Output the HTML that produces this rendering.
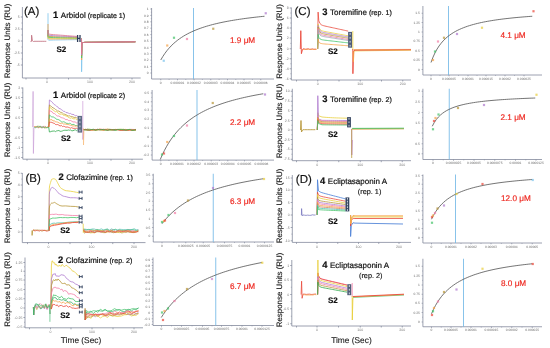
<!DOCTYPE html>
<html><head><meta charset="utf-8"><style>
html,body{margin:0;padding:0;background:#fff;width:550px;height:348px;overflow:hidden}
svg{display:block;will-change:transform}
text{font-family:'Liberation Sans', sans-serif;text-rendering:geometricPrecision}
</style></head><body>
<svg width="550" height="348" viewBox="0 0 550 348">
<rect width="550" height="348" fill="#fff"/>
<line x1="151.6" y1="8" x2="151.6" y2="79" stroke="#7b8296" stroke-width="0.75"/>
<line x1="151.6" y1="79" x2="274" y2="79" stroke="#7b8296" stroke-width="0.75"/>
<line x1="150.3" y1="9.0" x2="151.6" y2="9.0" stroke="#7b8296" stroke-width="0.6"/>
<text x="148.6" y="10.1" font-size="3.3" fill="#6e6e6e" font-weight="normal" text-anchor="end" >1</text>
<line x1="150.3" y1="15.4" x2="151.6" y2="15.4" stroke="#7b8296" stroke-width="0.6"/>
<text x="148.6" y="16.5" font-size="3.3" fill="#6e6e6e" font-weight="normal" text-anchor="end" >0.9</text>
<line x1="150.3" y1="21.8" x2="151.6" y2="21.8" stroke="#7b8296" stroke-width="0.6"/>
<text x="148.6" y="22.9" font-size="3.3" fill="#6e6e6e" font-weight="normal" text-anchor="end" >0.8</text>
<line x1="150.3" y1="28.2" x2="151.6" y2="28.2" stroke="#7b8296" stroke-width="0.6"/>
<text x="148.6" y="29.3" font-size="3.3" fill="#6e6e6e" font-weight="normal" text-anchor="end" >0.7</text>
<line x1="150.3" y1="34.6" x2="151.6" y2="34.6" stroke="#7b8296" stroke-width="0.6"/>
<text x="148.6" y="35.7" font-size="3.3" fill="#6e6e6e" font-weight="normal" text-anchor="end" >0.6</text>
<line x1="150.3" y1="41.0" x2="151.6" y2="41.0" stroke="#7b8296" stroke-width="0.6"/>
<text x="148.6" y="42.1" font-size="3.3" fill="#6e6e6e" font-weight="normal" text-anchor="end" >0.5</text>
<line x1="150.3" y1="47.4" x2="151.6" y2="47.4" stroke="#7b8296" stroke-width="0.6"/>
<text x="148.6" y="48.5" font-size="3.3" fill="#6e6e6e" font-weight="normal" text-anchor="end" >0.4</text>
<line x1="150.3" y1="53.8" x2="151.6" y2="53.8" stroke="#7b8296" stroke-width="0.6"/>
<text x="148.6" y="54.9" font-size="3.3" fill="#6e6e6e" font-weight="normal" text-anchor="end" >0.3</text>
<line x1="150.3" y1="60.2" x2="151.6" y2="60.2" stroke="#7b8296" stroke-width="0.6"/>
<text x="148.6" y="61.3" font-size="3.3" fill="#6e6e6e" font-weight="normal" text-anchor="end" >0.2</text>
<line x1="150.3" y1="66.6" x2="151.6" y2="66.6" stroke="#7b8296" stroke-width="0.6"/>
<text x="148.6" y="67.7" font-size="3.3" fill="#6e6e6e" font-weight="normal" text-anchor="end" >0.1</text>
<line x1="150.3" y1="73.0" x2="151.6" y2="73.0" stroke="#7b8296" stroke-width="0.6"/>
<text x="148.6" y="74.1" font-size="3.3" fill="#6e6e6e" font-weight="normal" text-anchor="end" >0</text>
<line x1="150.8" y1="12.2" x2="151.6" y2="12.2" stroke="#7b8296" stroke-width="0.5"/>
<line x1="150.8" y1="18.6" x2="151.6" y2="18.6" stroke="#7b8296" stroke-width="0.5"/>
<line x1="150.8" y1="25.0" x2="151.6" y2="25.0" stroke="#7b8296" stroke-width="0.5"/>
<line x1="150.8" y1="31.4" x2="151.6" y2="31.4" stroke="#7b8296" stroke-width="0.5"/>
<line x1="150.8" y1="37.8" x2="151.6" y2="37.8" stroke="#7b8296" stroke-width="0.5"/>
<line x1="150.8" y1="44.2" x2="151.6" y2="44.2" stroke="#7b8296" stroke-width="0.5"/>
<line x1="150.8" y1="50.6" x2="151.6" y2="50.6" stroke="#7b8296" stroke-width="0.5"/>
<line x1="150.8" y1="57.0" x2="151.6" y2="57.0" stroke="#7b8296" stroke-width="0.5"/>
<line x1="150.8" y1="63.4" x2="151.6" y2="63.4" stroke="#7b8296" stroke-width="0.5"/>
<line x1="150.8" y1="69.8" x2="151.6" y2="69.8" stroke="#7b8296" stroke-width="0.5"/>
<line x1="160.75" y1="79" x2="160.75" y2="80.3" stroke="#7b8296" stroke-width="0.6"/>
<text x="160.75" y="83.5" font-size="3.3" fill="#6e6e6e" font-weight="normal" text-anchor="middle" >0</text>
<line x1="177.5" y1="79" x2="177.5" y2="80.3" stroke="#7b8296" stroke-width="0.6"/>
<text x="177.5" y="83.5" font-size="3.3" fill="#6e6e6e" font-weight="normal" text-anchor="middle" >0.000001</text>
<line x1="194" y1="79" x2="194" y2="80.3" stroke="#7b8296" stroke-width="0.6"/>
<text x="194" y="83.5" font-size="3.3" fill="#6e6e6e" font-weight="normal" text-anchor="middle" >0.000002</text>
<line x1="210.75" y1="79" x2="210.75" y2="80.3" stroke="#7b8296" stroke-width="0.6"/>
<text x="210.75" y="83.5" font-size="3.3" fill="#6e6e6e" font-weight="normal" text-anchor="middle" >0.000003</text>
<line x1="227.5" y1="79" x2="227.5" y2="80.3" stroke="#7b8296" stroke-width="0.6"/>
<text x="227.5" y="83.5" font-size="3.3" fill="#6e6e6e" font-weight="normal" text-anchor="middle" >0.000004</text>
<line x1="244" y1="79" x2="244" y2="80.3" stroke="#7b8296" stroke-width="0.6"/>
<text x="244" y="83.5" font-size="3.3" fill="#6e6e6e" font-weight="normal" text-anchor="middle" >0.000005</text>
<line x1="260.75" y1="79" x2="260.75" y2="80.3" stroke="#7b8296" stroke-width="0.6"/>
<text x="260.75" y="83.5" font-size="3.3" fill="#6e6e6e" font-weight="normal" text-anchor="middle" >0.000006</text>
<line x1="169.12" y1="79" x2="169.12" y2="79.9" stroke="#7b8296" stroke-width="0.5"/>
<line x1="185.75" y1="79" x2="185.75" y2="79.9" stroke="#7b8296" stroke-width="0.5"/>
<line x1="202.38" y1="79" x2="202.38" y2="79.9" stroke="#7b8296" stroke-width="0.5"/>
<line x1="219.12" y1="79" x2="219.12" y2="79.9" stroke="#7b8296" stroke-width="0.5"/>
<line x1="235.75" y1="79" x2="235.75" y2="79.9" stroke="#7b8296" stroke-width="0.5"/>
<line x1="252.38" y1="79" x2="252.38" y2="79.9" stroke="#7b8296" stroke-width="0.5"/>
<line x1="193.5" y1="8" x2="193.5" y2="79" stroke="#72b8e6" stroke-width="0.85"/>
<polyline points="160.75,60.00 162.82,56.50 164.90,53.40 166.97,50.64 169.05,48.17 171.12,45.94 173.20,43.92 175.28,42.08 177.35,40.40 179.43,38.85 181.50,37.43 183.57,36.12 185.65,34.90 187.72,33.77 189.80,32.71 191.88,31.73 193.95,30.81 196.03,29.94 198.10,29.13 200.18,28.36 202.25,27.64 204.32,26.96 206.40,26.31 208.47,25.70 210.55,25.12 212.62,24.56 214.70,24.04 216.78,23.54 218.85,23.06 220.93,22.60 223.00,22.17 225.07,21.75 227.15,21.35 229.22,20.97 231.30,20.60 233.38,20.25 235.45,19.91 237.53,19.58 239.60,19.27 241.68,18.97 243.75,18.67 245.82,18.39 247.90,18.12 249.97,17.86 252.05,17.61 254.12,17.36 256.20,17.12 258.27,16.90 260.35,16.67 262.43,16.46 264.50,16.25" fill="none" stroke="#505050" stroke-width="0.8" stroke-opacity="1" stroke-linejoin="round"/>
<rect x="162.65" y="59.65" width="2.2" height="2.2" fill="#7cc4ec" opacity="0.72"/>
<rect x="166.15" y="44.4" width="2.2" height="2.2" fill="#f5a34a" opacity="0.72"/>
<rect x="172.9" y="36.65" width="2.2" height="2.2" fill="#45c46a" opacity="0.72"/>
<rect x="185.9" y="37.9" width="2.2" height="2.2" fill="#f27fa8" opacity="0.72"/>
<rect x="212.15" y="27.65" width="2.2" height="2.2" fill="#b8973a" opacity="0.72"/>
<rect x="264.65" y="12.15" width="2.2" height="2.2" fill="#b07ccf" opacity="0.72"/>
<text x="230" y="42.5" font-size="8.2" fill="#ee2a22" font-weight="normal" text-anchor="start" stroke="#ee2a22" stroke-width="0.18">1.9 μM</text>
<line x1="152.1" y1="90" x2="152.1" y2="160.1" stroke="#7b8296" stroke-width="0.75"/>
<line x1="152.1" y1="160.1" x2="274" y2="160.1" stroke="#7b8296" stroke-width="0.75"/>
<line x1="150.8" y1="93" x2="152.1" y2="93" stroke="#7b8296" stroke-width="0.6"/>
<text x="149.1" y="94.1" font-size="3.3" fill="#6e6e6e" font-weight="normal" text-anchor="end" >0.5</text>
<line x1="150.8" y1="101.75" x2="152.1" y2="101.75" stroke="#7b8296" stroke-width="0.6"/>
<text x="149.1" y="102.85" font-size="3.3" fill="#6e6e6e" font-weight="normal" text-anchor="end" >0.4</text>
<line x1="150.8" y1="110.25" x2="152.1" y2="110.25" stroke="#7b8296" stroke-width="0.6"/>
<text x="149.1" y="111.35" font-size="3.3" fill="#6e6e6e" font-weight="normal" text-anchor="end" >0.3</text>
<line x1="150.8" y1="119.25" x2="152.1" y2="119.25" stroke="#7b8296" stroke-width="0.6"/>
<text x="149.1" y="120.35" font-size="3.3" fill="#6e6e6e" font-weight="normal" text-anchor="end" >0.2</text>
<line x1="150.8" y1="128" x2="152.1" y2="128" stroke="#7b8296" stroke-width="0.6"/>
<text x="149.1" y="129.1" font-size="3.3" fill="#6e6e6e" font-weight="normal" text-anchor="end" >0.1</text>
<line x1="150.8" y1="137.25" x2="152.1" y2="137.25" stroke="#7b8296" stroke-width="0.6"/>
<text x="149.1" y="138.35" font-size="3.3" fill="#6e6e6e" font-weight="normal" text-anchor="end" >0</text>
<line x1="150.8" y1="146" x2="152.1" y2="146" stroke="#7b8296" stroke-width="0.6"/>
<text x="149.1" y="147.1" font-size="3.3" fill="#6e6e6e" font-weight="normal" text-anchor="end" >-0.1</text>
<line x1="150.8" y1="155" x2="152.1" y2="155" stroke="#7b8296" stroke-width="0.6"/>
<text x="149.1" y="156.1" font-size="3.3" fill="#6e6e6e" font-weight="normal" text-anchor="end" >-0.2</text>
<line x1="151.3" y1="97.38" x2="152.1" y2="97.38" stroke="#7b8296" stroke-width="0.5"/>
<line x1="151.3" y1="106.0" x2="152.1" y2="106.0" stroke="#7b8296" stroke-width="0.5"/>
<line x1="151.3" y1="114.75" x2="152.1" y2="114.75" stroke="#7b8296" stroke-width="0.5"/>
<line x1="151.3" y1="123.62" x2="152.1" y2="123.62" stroke="#7b8296" stroke-width="0.5"/>
<line x1="151.3" y1="132.62" x2="152.1" y2="132.62" stroke="#7b8296" stroke-width="0.5"/>
<line x1="151.3" y1="141.62" x2="152.1" y2="141.62" stroke="#7b8296" stroke-width="0.5"/>
<line x1="151.3" y1="150.5" x2="152.1" y2="150.5" stroke="#7b8296" stroke-width="0.5"/>
<line x1="160.75" y1="160.1" x2="160.75" y2="161.4" stroke="#7b8296" stroke-width="0.6"/>
<text x="160.75" y="164.6" font-size="3.3" fill="#6e6e6e" font-weight="normal" text-anchor="middle" >0</text>
<line x1="177" y1="160.1" x2="177" y2="161.4" stroke="#7b8296" stroke-width="0.6"/>
<text x="177" y="164.6" font-size="3.3" fill="#6e6e6e" font-weight="normal" text-anchor="middle" >0.000001</text>
<line x1="194" y1="160.1" x2="194" y2="161.4" stroke="#7b8296" stroke-width="0.6"/>
<text x="194" y="164.6" font-size="3.3" fill="#6e6e6e" font-weight="normal" text-anchor="middle" >0.000002</text>
<line x1="211.25" y1="160.1" x2="211.25" y2="161.4" stroke="#7b8296" stroke-width="0.6"/>
<text x="211.25" y="164.6" font-size="3.3" fill="#6e6e6e" font-weight="normal" text-anchor="middle" >0.000003</text>
<line x1="227.75" y1="160.1" x2="227.75" y2="161.4" stroke="#7b8296" stroke-width="0.6"/>
<text x="227.75" y="164.6" font-size="3.3" fill="#6e6e6e" font-weight="normal" text-anchor="middle" >0.000004</text>
<line x1="244.5" y1="160.1" x2="244.5" y2="161.4" stroke="#7b8296" stroke-width="0.6"/>
<text x="244.5" y="164.6" font-size="3.3" fill="#6e6e6e" font-weight="normal" text-anchor="middle" >0.000005</text>
<line x1="261.5" y1="160.1" x2="261.5" y2="161.4" stroke="#7b8296" stroke-width="0.6"/>
<text x="261.5" y="164.6" font-size="3.3" fill="#6e6e6e" font-weight="normal" text-anchor="middle" >0.000006</text>
<line x1="168.88" y1="160.1" x2="168.88" y2="161.0" stroke="#7b8296" stroke-width="0.5"/>
<line x1="185.5" y1="160.1" x2="185.5" y2="161.0" stroke="#7b8296" stroke-width="0.5"/>
<line x1="202.62" y1="160.1" x2="202.62" y2="161.0" stroke="#7b8296" stroke-width="0.5"/>
<line x1="219.5" y1="160.1" x2="219.5" y2="161.0" stroke="#7b8296" stroke-width="0.5"/>
<line x1="236.12" y1="160.1" x2="236.12" y2="161.0" stroke="#7b8296" stroke-width="0.5"/>
<line x1="253.0" y1="160.1" x2="253.0" y2="161.0" stroke="#7b8296" stroke-width="0.5"/>
<line x1="197" y1="90" x2="197" y2="160.1" stroke="#72b8e6" stroke-width="0.85"/>
<polyline points="160.25,159.50 162.31,154.80 164.37,150.56 166.43,146.73 168.49,143.25 170.55,140.07 172.61,137.16 174.67,134.47 176.73,132.00 178.79,129.70 180.85,127.58 182.91,125.59 184.97,123.74 187.03,122.01 189.09,120.39 191.15,118.87 193.21,117.43 195.27,116.08 197.33,114.80 199.39,113.59 201.45,112.45 203.51,111.36 205.57,110.33 207.63,109.35 209.69,108.41 211.75,107.52 213.81,106.67 215.87,105.85 217.93,105.08 219.99,104.33 222.05,103.62 224.11,102.93 226.17,102.28 228.23,101.64 230.29,101.04 232.35,100.45 234.41,99.89 236.47,99.35 238.53,98.83 240.59,98.32 242.65,97.83 244.71,97.36 246.77,96.91 248.83,96.47 250.89,96.04 252.95,95.63 255.01,95.23 257.07,94.84 259.13,94.47 261.19,94.10 263.25,93.75" fill="none" stroke="#505050" stroke-width="0.8" stroke-opacity="1" stroke-linejoin="round"/>
<rect x="160.9" y="153.4" width="2.2" height="2.2" fill="#45c46a" opacity="0.72"/>
<rect x="162.9" y="152.4" width="2.2" height="2.2" fill="#ea4a3c" opacity="0.72"/>
<rect x="166.15" y="140.9" width="2.2" height="2.2" fill="#f5a34a" opacity="0.72"/>
<rect x="172.9" y="134.9" width="2.2" height="2.2" fill="#45c46a" opacity="0.72"/>
<rect x="185.9" y="124.4" width="2.2" height="2.2" fill="#f27fa8" opacity="0.72"/>
<rect x="211.65" y="101.9" width="2.2" height="2.2" fill="#b8973a" opacity="0.72"/>
<rect x="263.9" y="93.4" width="2.2" height="2.2" fill="#b07ccf" opacity="0.72"/>
<text x="230" y="124.5" font-size="8.2" fill="#ee2a22" font-weight="normal" text-anchor="start" stroke="#ee2a22" stroke-width="0.18">2.2 μM</text>
<line x1="153.25" y1="173.75" x2="153.25" y2="242" stroke="#7b8296" stroke-width="0.75"/>
<line x1="153.25" y1="242" x2="274" y2="242" stroke="#7b8296" stroke-width="0.75"/>
<line x1="151.95" y1="175" x2="153.25" y2="175" stroke="#7b8296" stroke-width="0.6"/>
<text x="150.25" y="176.1" font-size="3.3" fill="#6e6e6e" font-weight="normal" text-anchor="end" >3.5</text>
<line x1="151.95" y1="183.75" x2="153.25" y2="183.75" stroke="#7b8296" stroke-width="0.6"/>
<text x="150.25" y="184.85" font-size="3.3" fill="#6e6e6e" font-weight="normal" text-anchor="end" >3</text>
<line x1="151.95" y1="192.5" x2="153.25" y2="192.5" stroke="#7b8296" stroke-width="0.6"/>
<text x="150.25" y="193.6" font-size="3.3" fill="#6e6e6e" font-weight="normal" text-anchor="end" >2.5</text>
<line x1="151.95" y1="201.25" x2="153.25" y2="201.25" stroke="#7b8296" stroke-width="0.6"/>
<text x="150.25" y="202.35" font-size="3.3" fill="#6e6e6e" font-weight="normal" text-anchor="end" >2</text>
<line x1="151.95" y1="210" x2="153.25" y2="210" stroke="#7b8296" stroke-width="0.6"/>
<text x="150.25" y="211.1" font-size="3.3" fill="#6e6e6e" font-weight="normal" text-anchor="end" >1.5</text>
<line x1="151.95" y1="219" x2="153.25" y2="219" stroke="#7b8296" stroke-width="0.6"/>
<text x="150.25" y="220.1" font-size="3.3" fill="#6e6e6e" font-weight="normal" text-anchor="end" >1</text>
<line x1="151.95" y1="227.5" x2="153.25" y2="227.5" stroke="#7b8296" stroke-width="0.6"/>
<text x="150.25" y="228.6" font-size="3.3" fill="#6e6e6e" font-weight="normal" text-anchor="end" >0.5</text>
<line x1="151.95" y1="236.25" x2="153.25" y2="236.25" stroke="#7b8296" stroke-width="0.6"/>
<text x="150.25" y="237.35" font-size="3.3" fill="#6e6e6e" font-weight="normal" text-anchor="end" >0</text>
<line x1="152.45" y1="179.38" x2="153.25" y2="179.38" stroke="#7b8296" stroke-width="0.5"/>
<line x1="152.45" y1="188.12" x2="153.25" y2="188.12" stroke="#7b8296" stroke-width="0.5"/>
<line x1="152.45" y1="196.88" x2="153.25" y2="196.88" stroke="#7b8296" stroke-width="0.5"/>
<line x1="152.45" y1="205.62" x2="153.25" y2="205.62" stroke="#7b8296" stroke-width="0.5"/>
<line x1="152.45" y1="214.5" x2="153.25" y2="214.5" stroke="#7b8296" stroke-width="0.5"/>
<line x1="152.45" y1="223.25" x2="153.25" y2="223.25" stroke="#7b8296" stroke-width="0.5"/>
<line x1="152.45" y1="231.88" x2="153.25" y2="231.88" stroke="#7b8296" stroke-width="0.5"/>
<line x1="162" y1="242" x2="162" y2="243.3" stroke="#7b8296" stroke-width="0.6"/>
<text x="162" y="246.5" font-size="3.3" fill="#6e6e6e" font-weight="normal" text-anchor="middle" >0</text>
<line x1="185.75" y1="242" x2="185.75" y2="243.3" stroke="#7b8296" stroke-width="0.6"/>
<text x="185.75" y="246.5" font-size="3.3" fill="#6e6e6e" font-weight="normal" text-anchor="middle" >0.0000025</text>
<line x1="203.25" y1="242" x2="203.25" y2="243.3" stroke="#7b8296" stroke-width="0.6"/>
<text x="203.25" y="246.5" font-size="3.3" fill="#6e6e6e" font-weight="normal" text-anchor="middle" >0.000005</text>
<line x1="224.5" y1="242" x2="224.5" y2="243.3" stroke="#7b8296" stroke-width="0.6"/>
<text x="224.5" y="246.5" font-size="3.3" fill="#6e6e6e" font-weight="normal" text-anchor="middle" >0.0000075</text>
<line x1="244.5" y1="242" x2="244.5" y2="243.3" stroke="#7b8296" stroke-width="0.6"/>
<text x="244.5" y="246.5" font-size="3.3" fill="#6e6e6e" font-weight="normal" text-anchor="middle" >0.00001</text>
<line x1="264.5" y1="242" x2="264.5" y2="243.3" stroke="#7b8296" stroke-width="0.6"/>
<text x="264.5" y="246.5" font-size="3.3" fill="#6e6e6e" font-weight="normal" text-anchor="middle" >0.0000125</text>
<line x1="173.88" y1="242" x2="173.88" y2="242.9" stroke="#7b8296" stroke-width="0.5"/>
<line x1="194.5" y1="242" x2="194.5" y2="242.9" stroke="#7b8296" stroke-width="0.5"/>
<line x1="213.88" y1="242" x2="213.88" y2="242.9" stroke="#7b8296" stroke-width="0.5"/>
<line x1="234.5" y1="242" x2="234.5" y2="242.9" stroke="#7b8296" stroke-width="0.5"/>
<line x1="254.5" y1="242" x2="254.5" y2="242.9" stroke="#7b8296" stroke-width="0.5"/>
<line x1="213.25" y1="173.75" x2="213.25" y2="242" stroke="#72b8e6" stroke-width="0.85"/>
<polyline points="162.00,223.75 164.03,221.19 166.05,218.82 168.07,216.61 170.10,214.55 172.12,212.62 174.15,210.82 176.18,209.13 178.20,207.54 180.22,206.04 182.25,204.63 184.28,203.29 186.30,202.02 188.32,200.82 190.35,199.69 192.38,198.60 194.40,197.57 196.43,196.59 198.45,195.65 200.47,194.75 202.50,193.90 204.53,193.08 206.55,192.29 208.57,191.54 210.60,190.82 212.62,190.13 214.65,189.46 216.68,188.82 218.70,188.20 220.72,187.60 222.75,187.03 224.78,186.48 226.80,185.94 228.82,185.43 230.85,184.93 232.88,184.45 234.90,183.98 236.93,183.53 238.95,183.09 240.97,182.67 243.00,182.26 245.03,181.86 247.05,181.47 249.07,181.10 251.10,180.73 253.12,180.38 255.15,180.04 257.18,179.70 259.20,179.38 261.23,179.06 263.25,178.75" fill="none" stroke="#505050" stroke-width="0.8" stroke-opacity="1" stroke-linejoin="round"/>
<rect x="160.9" y="220.9" width="2.2" height="2.2" fill="#45c46a" opacity="0.72"/>
<rect x="162.9" y="219.9" width="2.2" height="2.2" fill="#f5a34a" opacity="0.72"/>
<rect x="163.9" y="219.4" width="2.2" height="2.2" fill="#ea4a3c" opacity="0.72"/>
<rect x="167.4" y="213.9" width="2.2" height="2.2" fill="#45c46a" opacity="0.72"/>
<rect x="173.9" y="211.9" width="2.2" height="2.2" fill="#f27fa8" opacity="0.72"/>
<rect x="186.9" y="199.4" width="2.2" height="2.2" fill="#b8973a" opacity="0.72"/>
<rect x="211.9" y="186.9" width="2.2" height="2.2" fill="#b07ccf" opacity="0.72"/>
<rect x="262.9" y="177.9" width="2.2" height="2.2" fill="#e9cf3e" opacity="0.72"/>
<text x="230" y="203.75" font-size="8.2" fill="#ee2a22" font-weight="normal" text-anchor="start" stroke="#ee2a22" stroke-width="0.18">6.3 μM</text>
<line x1="153" y1="257.5" x2="153" y2="325.5" stroke="#7b8296" stroke-width="0.75"/>
<line x1="153" y1="325.5" x2="274" y2="325.5" stroke="#7b8296" stroke-width="0.75"/>
<line x1="151.7" y1="259.5" x2="153" y2="259.5" stroke="#7b8296" stroke-width="0.6"/>
<text x="150" y="260.6" font-size="3.3" fill="#6e6e6e" font-weight="normal" text-anchor="end" >0.9</text>
<line x1="151.7" y1="265.5" x2="153" y2="265.5" stroke="#7b8296" stroke-width="0.6"/>
<text x="150" y="266.6" font-size="3.3" fill="#6e6e6e" font-weight="normal" text-anchor="end" >0.8</text>
<line x1="151.7" y1="270.75" x2="153" y2="270.75" stroke="#7b8296" stroke-width="0.6"/>
<text x="150" y="271.85" font-size="3.3" fill="#6e6e6e" font-weight="normal" text-anchor="end" >0.7</text>
<line x1="151.7" y1="277" x2="153" y2="277" stroke="#7b8296" stroke-width="0.6"/>
<text x="150" y="278.1" font-size="3.3" fill="#6e6e6e" font-weight="normal" text-anchor="end" >0.6</text>
<line x1="151.7" y1="282.5" x2="153" y2="282.5" stroke="#7b8296" stroke-width="0.6"/>
<text x="150" y="283.6" font-size="3.3" fill="#6e6e6e" font-weight="normal" text-anchor="end" >0.5</text>
<line x1="151.7" y1="288.75" x2="153" y2="288.75" stroke="#7b8296" stroke-width="0.6"/>
<text x="150" y="289.85" font-size="3.3" fill="#6e6e6e" font-weight="normal" text-anchor="end" >0.4</text>
<line x1="151.7" y1="295" x2="153" y2="295" stroke="#7b8296" stroke-width="0.6"/>
<text x="150" y="296.1" font-size="3.3" fill="#6e6e6e" font-weight="normal" text-anchor="end" >0.3</text>
<line x1="151.7" y1="300.75" x2="153" y2="300.75" stroke="#7b8296" stroke-width="0.6"/>
<text x="150" y="301.85" font-size="3.3" fill="#6e6e6e" font-weight="normal" text-anchor="end" >0.2</text>
<line x1="151.7" y1="306.75" x2="153" y2="306.75" stroke="#7b8296" stroke-width="0.6"/>
<text x="150" y="307.85" font-size="3.3" fill="#6e6e6e" font-weight="normal" text-anchor="end" >0.1</text>
<line x1="151.7" y1="312.5" x2="153" y2="312.5" stroke="#7b8296" stroke-width="0.6"/>
<text x="150" y="313.6" font-size="3.3" fill="#6e6e6e" font-weight="normal" text-anchor="end" >0</text>
<line x1="151.7" y1="318.75" x2="153" y2="318.75" stroke="#7b8296" stroke-width="0.6"/>
<text x="150" y="319.85" font-size="3.3" fill="#6e6e6e" font-weight="normal" text-anchor="end" >-0.1</text>
<line x1="151.7" y1="324.5" x2="153" y2="324.5" stroke="#7b8296" stroke-width="0.6"/>
<text x="150" y="325.6" font-size="3.3" fill="#6e6e6e" font-weight="normal" text-anchor="end" >-0.2</text>
<line x1="152.2" y1="262.5" x2="153" y2="262.5" stroke="#7b8296" stroke-width="0.5"/>
<line x1="152.2" y1="268.12" x2="153" y2="268.12" stroke="#7b8296" stroke-width="0.5"/>
<line x1="152.2" y1="273.88" x2="153" y2="273.88" stroke="#7b8296" stroke-width="0.5"/>
<line x1="152.2" y1="279.75" x2="153" y2="279.75" stroke="#7b8296" stroke-width="0.5"/>
<line x1="152.2" y1="285.62" x2="153" y2="285.62" stroke="#7b8296" stroke-width="0.5"/>
<line x1="152.2" y1="291.88" x2="153" y2="291.88" stroke="#7b8296" stroke-width="0.5"/>
<line x1="152.2" y1="297.88" x2="153" y2="297.88" stroke="#7b8296" stroke-width="0.5"/>
<line x1="152.2" y1="303.75" x2="153" y2="303.75" stroke="#7b8296" stroke-width="0.5"/>
<line x1="152.2" y1="309.62" x2="153" y2="309.62" stroke="#7b8296" stroke-width="0.5"/>
<line x1="152.2" y1="315.62" x2="153" y2="315.62" stroke="#7b8296" stroke-width="0.5"/>
<line x1="152.2" y1="321.62" x2="153" y2="321.62" stroke="#7b8296" stroke-width="0.5"/>
<line x1="161.5" y1="325.5" x2="161.5" y2="326.8" stroke="#7b8296" stroke-width="0.6"/>
<text x="161.5" y="330.0" font-size="3.3" fill="#6e6e6e" font-weight="normal" text-anchor="middle" >0</text>
<line x1="181.5" y1="325.5" x2="181.5" y2="326.8" stroke="#7b8296" stroke-width="0.6"/>
<text x="181.5" y="330.0" font-size="3.3" fill="#6e6e6e" font-weight="normal" text-anchor="middle" >0.0000025</text>
<line x1="202.5" y1="325.5" x2="202.5" y2="326.8" stroke="#7b8296" stroke-width="0.6"/>
<text x="202.5" y="330.0" font-size="3.3" fill="#6e6e6e" font-weight="normal" text-anchor="middle" >0.000005</text>
<line x1="221.5" y1="325.5" x2="221.5" y2="326.8" stroke="#7b8296" stroke-width="0.6"/>
<text x="221.5" y="330.0" font-size="3.3" fill="#6e6e6e" font-weight="normal" text-anchor="middle" >0.0000075</text>
<line x1="242" y1="325.5" x2="242" y2="326.8" stroke="#7b8296" stroke-width="0.6"/>
<text x="242" y="330.0" font-size="3.3" fill="#6e6e6e" font-weight="normal" text-anchor="middle" >0.00001</text>
<line x1="262" y1="325.5" x2="262" y2="326.8" stroke="#7b8296" stroke-width="0.6"/>
<text x="262" y="330.0" font-size="3.3" fill="#6e6e6e" font-weight="normal" text-anchor="middle" >0.0000125</text>
<line x1="171.5" y1="325.5" x2="171.5" y2="326.4" stroke="#7b8296" stroke-width="0.5"/>
<line x1="192.0" y1="325.5" x2="192.0" y2="326.4" stroke="#7b8296" stroke-width="0.5"/>
<line x1="212.0" y1="325.5" x2="212.0" y2="326.4" stroke="#7b8296" stroke-width="0.5"/>
<line x1="231.75" y1="325.5" x2="231.75" y2="326.4" stroke="#7b8296" stroke-width="0.5"/>
<line x1="252.0" y1="325.5" x2="252.0" y2="326.4" stroke="#7b8296" stroke-width="0.5"/>
<line x1="215.75" y1="257.5" x2="215.75" y2="325.5" stroke="#72b8e6" stroke-width="0.85"/>
<polyline points="161.25,317.50 163.26,314.44 165.28,311.60 167.29,308.95 169.31,306.47 171.32,304.15 173.34,301.97 175.35,299.92 177.37,297.99 179.38,296.17 181.40,294.45 183.41,292.82 185.43,291.28 187.44,289.81 189.46,288.42 191.47,287.09 193.49,285.83 195.50,284.62 197.52,283.47 199.53,282.37 201.55,281.31 203.56,280.30 205.58,279.33 207.59,278.41 209.61,277.51 211.62,276.66 213.64,275.83 215.66,275.04 217.67,274.27 219.69,273.53 221.70,272.82 223.72,272.14 225.73,271.47 227.75,270.83 229.76,270.21 231.78,269.61 233.79,269.03 235.81,268.47 237.82,267.93 239.83,267.40 241.85,266.89 243.87,266.39 245.88,265.91 247.89,265.44 249.91,264.98 251.93,264.54 253.94,264.11 255.95,263.69 257.97,263.28 259.99,262.89 262.00,262.50" fill="none" stroke="#505050" stroke-width="0.8" stroke-opacity="1" stroke-linejoin="round"/>
<rect x="160.9" y="311.4" width="2.2" height="2.2" fill="#45c46a" opacity="0.72"/>
<rect x="161.9" y="318.9" width="2.2" height="2.2" fill="#ea4a3c" opacity="0.72"/>
<rect x="163.4" y="309.9" width="2.2" height="2.2" fill="#f5a34a" opacity="0.72"/>
<rect x="166.9" y="307.4" width="2.2" height="2.2" fill="#45c46a" opacity="0.72"/>
<rect x="173.4" y="299.9" width="2.2" height="2.2" fill="#f27fa8" opacity="0.72"/>
<rect x="185.9" y="287.9" width="2.2" height="2.2" fill="#b8973a" opacity="0.72"/>
<rect x="210.9" y="277.9" width="2.2" height="2.2" fill="#d08ad0" opacity="0.72"/>
<rect x="261.15" y="261.65" width="2.2" height="2.2" fill="#e9cf3e" opacity="0.72"/>
<text x="230" y="288.75" font-size="8.2" fill="#ee2a22" font-weight="normal" text-anchor="start" stroke="#ee2a22" stroke-width="0.18">6.7 μM</text>
<line x1="422.9" y1="6" x2="422.9" y2="75" stroke="#7b8296" stroke-width="0.75"/>
<line x1="422.9" y1="75" x2="542" y2="75" stroke="#7b8296" stroke-width="0.75"/>
<line x1="421.6" y1="13.25" x2="422.9" y2="13.25" stroke="#7b8296" stroke-width="0.6"/>
<text x="419.9" y="14.35" font-size="3.3" fill="#6e6e6e" font-weight="normal" text-anchor="end" >1.5</text>
<line x1="421.6" y1="22.5" x2="422.9" y2="22.5" stroke="#7b8296" stroke-width="0.6"/>
<text x="419.9" y="23.6" font-size="3.3" fill="#6e6e6e" font-weight="normal" text-anchor="end" >1.25</text>
<line x1="421.6" y1="32" x2="422.9" y2="32" stroke="#7b8296" stroke-width="0.6"/>
<text x="419.9" y="33.1" font-size="3.3" fill="#6e6e6e" font-weight="normal" text-anchor="end" >1</text>
<line x1="421.6" y1="41.25" x2="422.9" y2="41.25" stroke="#7b8296" stroke-width="0.6"/>
<text x="419.9" y="42.35" font-size="3.3" fill="#6e6e6e" font-weight="normal" text-anchor="end" >0.75</text>
<line x1="421.6" y1="50.75" x2="422.9" y2="50.75" stroke="#7b8296" stroke-width="0.6"/>
<text x="419.9" y="51.85" font-size="3.3" fill="#6e6e6e" font-weight="normal" text-anchor="end" >0.5</text>
<line x1="421.6" y1="60" x2="422.9" y2="60" stroke="#7b8296" stroke-width="0.6"/>
<text x="419.9" y="61.1" font-size="3.3" fill="#6e6e6e" font-weight="normal" text-anchor="end" >0.25</text>
<line x1="421.6" y1="69.5" x2="422.9" y2="69.5" stroke="#7b8296" stroke-width="0.6"/>
<text x="419.9" y="70.6" font-size="3.3" fill="#6e6e6e" font-weight="normal" text-anchor="end" >0</text>
<line x1="422.1" y1="17.88" x2="422.9" y2="17.88" stroke="#7b8296" stroke-width="0.5"/>
<line x1="422.1" y1="27.25" x2="422.9" y2="27.25" stroke="#7b8296" stroke-width="0.5"/>
<line x1="422.1" y1="36.62" x2="422.9" y2="36.62" stroke="#7b8296" stroke-width="0.5"/>
<line x1="422.1" y1="46.0" x2="422.9" y2="46.0" stroke="#7b8296" stroke-width="0.5"/>
<line x1="422.1" y1="55.38" x2="422.9" y2="55.38" stroke="#7b8296" stroke-width="0.5"/>
<line x1="422.1" y1="64.75" x2="422.9" y2="64.75" stroke="#7b8296" stroke-width="0.5"/>
<line x1="431" y1="75" x2="431" y2="76.3" stroke="#7b8296" stroke-width="0.6"/>
<text x="431" y="79.5" font-size="3.3" fill="#6e6e6e" font-weight="normal" text-anchor="middle" >0</text>
<line x1="449" y1="75" x2="449" y2="76.3" stroke="#7b8296" stroke-width="0.6"/>
<text x="449" y="79.5" font-size="3.3" fill="#6e6e6e" font-weight="normal" text-anchor="middle" >0.000005</text>
<line x1="468" y1="75" x2="468" y2="76.3" stroke="#7b8296" stroke-width="0.6"/>
<text x="468" y="79.5" font-size="3.3" fill="#6e6e6e" font-weight="normal" text-anchor="middle" >0.00001</text>
<line x1="486" y1="75" x2="486" y2="76.3" stroke="#7b8296" stroke-width="0.6"/>
<text x="486" y="79.5" font-size="3.3" fill="#6e6e6e" font-weight="normal" text-anchor="middle" >0.000015</text>
<line x1="505" y1="75" x2="505" y2="76.3" stroke="#7b8296" stroke-width="0.6"/>
<text x="505" y="79.5" font-size="3.3" fill="#6e6e6e" font-weight="normal" text-anchor="middle" >0.00002</text>
<line x1="524" y1="75" x2="524" y2="76.3" stroke="#7b8296" stroke-width="0.6"/>
<text x="524" y="79.5" font-size="3.3" fill="#6e6e6e" font-weight="normal" text-anchor="middle" >0.000025</text>
<line x1="440.0" y1="75" x2="440.0" y2="75.9" stroke="#7b8296" stroke-width="0.5"/>
<line x1="458.5" y1="75" x2="458.5" y2="75.9" stroke="#7b8296" stroke-width="0.5"/>
<line x1="477.0" y1="75" x2="477.0" y2="75.9" stroke="#7b8296" stroke-width="0.5"/>
<line x1="495.5" y1="75" x2="495.5" y2="75.9" stroke="#7b8296" stroke-width="0.5"/>
<line x1="514.5" y1="75" x2="514.5" y2="75.9" stroke="#7b8296" stroke-width="0.5"/>
<line x1="448.5" y1="6" x2="448.5" y2="75" stroke="#72b8e6" stroke-width="0.85"/>
<polyline points="431.00,62.50 433.02,57.14 435.05,52.74 437.07,49.05 439.10,45.93 441.12,43.24 443.15,40.91 445.18,38.86 447.20,37.05 449.23,35.44 451.25,34.00 453.27,32.70 455.30,31.53 457.32,30.45 459.35,29.47 461.38,28.58 463.40,27.75 465.43,26.99 467.45,26.28 469.48,25.62 471.50,25.01 473.52,24.44 475.55,23.90 477.57,23.40 479.60,22.93 481.62,22.48 483.65,22.06 485.68,21.67 487.70,21.29 489.73,20.94 491.75,20.60 493.77,20.28 495.80,19.98 497.82,19.68 499.85,19.41 501.88,19.14 503.90,18.89 505.93,18.65 507.95,18.42 509.98,18.20 512.00,17.98 514.02,17.78 516.05,17.58 518.08,17.39 520.10,17.21 522.12,17.04 524.15,16.87 526.17,16.71 528.20,16.55 530.23,16.40 532.25,16.25" fill="none" stroke="#505050" stroke-width="0.8" stroke-opacity="1" stroke-linejoin="round"/>
<rect x="431.9" y="58.9" width="2.2" height="2.2" fill="#f5a34a" opacity="0.72"/>
<rect x="433.9" y="50.4" width="2.2" height="2.2" fill="#45c46a" opacity="0.72"/>
<rect x="436.9" y="40.4" width="2.2" height="2.2" fill="#f27fa8" opacity="0.72"/>
<rect x="442.9" y="36.65" width="2.2" height="2.2" fill="#b8973a" opacity="0.72"/>
<rect x="455.9" y="32.9" width="2.2" height="2.2" fill="#b07ccf" opacity="0.72"/>
<rect x="480.9" y="26.65" width="2.2" height="2.2" fill="#e9cf3e" opacity="0.72"/>
<rect x="532.4" y="10.15" width="2.2" height="2.2" fill="#ea4a3c" opacity="0.72"/>
<text x="500.5" y="37.5" font-size="8.2" fill="#ee2a22" font-weight="normal" text-anchor="start" stroke="#ee2a22" stroke-width="0.18">4.1 μM</text>
<line x1="422.9" y1="88.75" x2="422.9" y2="159.5" stroke="#7b8296" stroke-width="0.75"/>
<line x1="422.9" y1="159.5" x2="542" y2="159.5" stroke="#7b8296" stroke-width="0.75"/>
<line x1="421.6" y1="91.25" x2="422.9" y2="91.25" stroke="#7b8296" stroke-width="0.6"/>
<text x="419.9" y="92.35" font-size="3.3" fill="#6e6e6e" font-weight="normal" text-anchor="end" >3</text>
<line x1="421.6" y1="102" x2="422.9" y2="102" stroke="#7b8296" stroke-width="0.6"/>
<text x="419.9" y="103.1" font-size="3.3" fill="#6e6e6e" font-weight="normal" text-anchor="end" >2.5</text>
<line x1="421.6" y1="112.5" x2="422.9" y2="112.5" stroke="#7b8296" stroke-width="0.6"/>
<text x="419.9" y="113.6" font-size="3.3" fill="#6e6e6e" font-weight="normal" text-anchor="end" >2</text>
<line x1="421.6" y1="123" x2="422.9" y2="123" stroke="#7b8296" stroke-width="0.6"/>
<text x="419.9" y="124.1" font-size="3.3" fill="#6e6e6e" font-weight="normal" text-anchor="end" >1.5</text>
<line x1="421.6" y1="133" x2="422.9" y2="133" stroke="#7b8296" stroke-width="0.6"/>
<text x="419.9" y="134.1" font-size="3.3" fill="#6e6e6e" font-weight="normal" text-anchor="end" >1</text>
<line x1="421.6" y1="143.75" x2="422.9" y2="143.75" stroke="#7b8296" stroke-width="0.6"/>
<text x="419.9" y="144.85" font-size="3.3" fill="#6e6e6e" font-weight="normal" text-anchor="end" >0.5</text>
<line x1="421.6" y1="153.75" x2="422.9" y2="153.75" stroke="#7b8296" stroke-width="0.6"/>
<text x="419.9" y="154.85" font-size="3.3" fill="#6e6e6e" font-weight="normal" text-anchor="end" >0</text>
<line x1="422.1" y1="96.62" x2="422.9" y2="96.62" stroke="#7b8296" stroke-width="0.5"/>
<line x1="422.1" y1="107.25" x2="422.9" y2="107.25" stroke="#7b8296" stroke-width="0.5"/>
<line x1="422.1" y1="117.75" x2="422.9" y2="117.75" stroke="#7b8296" stroke-width="0.5"/>
<line x1="422.1" y1="128.0" x2="422.9" y2="128.0" stroke="#7b8296" stroke-width="0.5"/>
<line x1="422.1" y1="138.38" x2="422.9" y2="138.38" stroke="#7b8296" stroke-width="0.5"/>
<line x1="422.1" y1="148.75" x2="422.9" y2="148.75" stroke="#7b8296" stroke-width="0.5"/>
<line x1="433" y1="159.5" x2="433" y2="160.8" stroke="#7b8296" stroke-width="0.6"/>
<text x="433" y="164.0" font-size="3.3" fill="#6e6e6e" font-weight="normal" text-anchor="middle" >0</text>
<line x1="453.5" y1="159.5" x2="453.5" y2="160.8" stroke="#7b8296" stroke-width="0.6"/>
<text x="453.5" y="164.0" font-size="3.3" fill="#6e6e6e" font-weight="normal" text-anchor="middle" >0.0000025</text>
<line x1="474" y1="159.5" x2="474" y2="160.8" stroke="#7b8296" stroke-width="0.6"/>
<text x="474" y="164.0" font-size="3.3" fill="#6e6e6e" font-weight="normal" text-anchor="middle" >0.000005</text>
<line x1="494.75" y1="159.5" x2="494.75" y2="160.8" stroke="#7b8296" stroke-width="0.6"/>
<text x="494.75" y="164.0" font-size="3.3" fill="#6e6e6e" font-weight="normal" text-anchor="middle" >0.0000075</text>
<line x1="515.5" y1="159.5" x2="515.5" y2="160.8" stroke="#7b8296" stroke-width="0.6"/>
<text x="515.5" y="164.0" font-size="3.3" fill="#6e6e6e" font-weight="normal" text-anchor="middle" >0.00001</text>
<line x1="536" y1="159.5" x2="536" y2="160.8" stroke="#7b8296" stroke-width="0.6"/>
<text x="536" y="164.0" font-size="3.3" fill="#6e6e6e" font-weight="normal" text-anchor="middle" >0.0000125</text>
<line x1="443.25" y1="159.5" x2="443.25" y2="160.4" stroke="#7b8296" stroke-width="0.5"/>
<line x1="463.75" y1="159.5" x2="463.75" y2="160.4" stroke="#7b8296" stroke-width="0.5"/>
<line x1="484.38" y1="159.5" x2="484.38" y2="160.4" stroke="#7b8296" stroke-width="0.5"/>
<line x1="505.12" y1="159.5" x2="505.12" y2="160.4" stroke="#7b8296" stroke-width="0.5"/>
<line x1="525.75" y1="159.5" x2="525.75" y2="160.4" stroke="#7b8296" stroke-width="0.5"/>
<line x1="449.25" y1="88.75" x2="449.25" y2="159.5" stroke="#72b8e6" stroke-width="0.85"/>
<polyline points="432.25,126.25 434.31,122.44 436.37,119.43 438.43,116.99 440.49,114.97 442.55,113.28 444.61,111.83 446.67,110.59 448.73,109.50 450.79,108.55 452.85,107.70 454.91,106.95 456.97,106.27 459.03,105.66 461.09,105.11 463.15,104.61 465.21,104.14 467.27,103.72 469.33,103.33 471.39,102.97 473.45,102.63 475.51,102.32 477.57,102.03 479.63,101.76 481.69,101.51 483.75,101.27 485.81,101.04 487.87,100.83 489.93,100.63 491.99,100.44 494.05,100.27 496.11,100.10 498.17,99.94 500.23,99.78 502.29,99.64 504.35,99.50 506.41,99.37 508.47,99.24 510.53,99.12 512.59,99.01 514.65,98.89 516.71,98.79 518.77,98.69 520.83,98.59 522.89,98.50 524.95,98.40 527.01,98.32 529.07,98.23 531.13,98.15 533.19,98.08 535.25,98.00" fill="none" stroke="#505050" stroke-width="0.8" stroke-opacity="1" stroke-linejoin="round"/>
<rect x="431.9" y="128.15" width="2.2" height="2.2" fill="#45c46a" opacity="0.72"/>
<rect x="432.9" y="119.9" width="2.2" height="2.2" fill="#ea4a3c" opacity="0.72"/>
<rect x="434.4" y="116.9" width="2.2" height="2.2" fill="#f5a34a" opacity="0.72"/>
<rect x="437.4" y="113.4" width="2.2" height="2.2" fill="#45c46a" opacity="0.72"/>
<rect x="456.9" y="106.9" width="2.2" height="2.2" fill="#b8973a" opacity="0.72"/>
<rect x="482.9" y="103.9" width="2.2" height="2.2" fill="#b07ccf" opacity="0.72"/>
<rect x="535.4" y="93.65" width="2.2" height="2.2" fill="#e9cf3e" opacity="0.72"/>
<text x="500.5" y="120" font-size="8.2" fill="#ee2a22" font-weight="normal" text-anchor="start" stroke="#ee2a22" stroke-width="0.18">2.1 μM</text>
<line x1="422.9" y1="174.5" x2="422.9" y2="243" stroke="#7b8296" stroke-width="0.75"/>
<line x1="422.9" y1="243" x2="542" y2="243" stroke="#7b8296" stroke-width="0.75"/>
<line x1="421.6" y1="175.5" x2="422.9" y2="175.5" stroke="#7b8296" stroke-width="0.6"/>
<text x="419.9" y="176.6" font-size="3.3" fill="#6e6e6e" font-weight="normal" text-anchor="end" >3.5</text>
<line x1="421.6" y1="184.25" x2="422.9" y2="184.25" stroke="#7b8296" stroke-width="0.6"/>
<text x="419.9" y="185.35" font-size="3.3" fill="#6e6e6e" font-weight="normal" text-anchor="end" >3</text>
<line x1="421.6" y1="193.25" x2="422.9" y2="193.25" stroke="#7b8296" stroke-width="0.6"/>
<text x="419.9" y="194.35" font-size="3.3" fill="#6e6e6e" font-weight="normal" text-anchor="end" >2.5</text>
<line x1="421.6" y1="202" x2="422.9" y2="202" stroke="#7b8296" stroke-width="0.6"/>
<text x="419.9" y="203.1" font-size="3.3" fill="#6e6e6e" font-weight="normal" text-anchor="end" >2</text>
<line x1="421.6" y1="210.75" x2="422.9" y2="210.75" stroke="#7b8296" stroke-width="0.6"/>
<text x="419.9" y="211.85" font-size="3.3" fill="#6e6e6e" font-weight="normal" text-anchor="end" >1.5</text>
<line x1="421.6" y1="219.5" x2="422.9" y2="219.5" stroke="#7b8296" stroke-width="0.6"/>
<text x="419.9" y="220.6" font-size="3.3" fill="#6e6e6e" font-weight="normal" text-anchor="end" >1</text>
<line x1="421.6" y1="228.5" x2="422.9" y2="228.5" stroke="#7b8296" stroke-width="0.6"/>
<text x="419.9" y="229.6" font-size="3.3" fill="#6e6e6e" font-weight="normal" text-anchor="end" >0.5</text>
<line x1="421.6" y1="237.5" x2="422.9" y2="237.5" stroke="#7b8296" stroke-width="0.6"/>
<text x="419.9" y="238.6" font-size="3.3" fill="#6e6e6e" font-weight="normal" text-anchor="end" >0</text>
<line x1="422.1" y1="179.88" x2="422.9" y2="179.88" stroke="#7b8296" stroke-width="0.5"/>
<line x1="422.1" y1="188.75" x2="422.9" y2="188.75" stroke="#7b8296" stroke-width="0.5"/>
<line x1="422.1" y1="197.62" x2="422.9" y2="197.62" stroke="#7b8296" stroke-width="0.5"/>
<line x1="422.1" y1="206.38" x2="422.9" y2="206.38" stroke="#7b8296" stroke-width="0.5"/>
<line x1="422.1" y1="215.12" x2="422.9" y2="215.12" stroke="#7b8296" stroke-width="0.5"/>
<line x1="422.1" y1="224.0" x2="422.9" y2="224.0" stroke="#7b8296" stroke-width="0.5"/>
<line x1="422.1" y1="233.0" x2="422.9" y2="233.0" stroke="#7b8296" stroke-width="0.5"/>
<line x1="431.5" y1="243" x2="431.5" y2="244.3" stroke="#7b8296" stroke-width="0.6"/>
<text x="431.5" y="247.5" font-size="3.3" fill="#6e6e6e" font-weight="normal" text-anchor="middle" >0</text>
<line x1="451" y1="243" x2="451" y2="244.3" stroke="#7b8296" stroke-width="0.6"/>
<text x="451" y="247.5" font-size="3.3" fill="#6e6e6e" font-weight="normal" text-anchor="middle" >0.00001</text>
<line x1="471" y1="243" x2="471" y2="244.3" stroke="#7b8296" stroke-width="0.6"/>
<text x="471" y="247.5" font-size="3.3" fill="#6e6e6e" font-weight="normal" text-anchor="middle" >0.00002</text>
<line x1="491" y1="243" x2="491" y2="244.3" stroke="#7b8296" stroke-width="0.6"/>
<text x="491" y="247.5" font-size="3.3" fill="#6e6e6e" font-weight="normal" text-anchor="middle" >0.00003</text>
<line x1="511.75" y1="243" x2="511.75" y2="244.3" stroke="#7b8296" stroke-width="0.6"/>
<text x="511.75" y="247.5" font-size="3.3" fill="#6e6e6e" font-weight="normal" text-anchor="middle" >0.00004</text>
<line x1="532.25" y1="243" x2="532.25" y2="244.3" stroke="#7b8296" stroke-width="0.6"/>
<text x="532.25" y="247.5" font-size="3.3" fill="#6e6e6e" font-weight="normal" text-anchor="middle" >0.00005</text>
<line x1="441.25" y1="243" x2="441.25" y2="243.9" stroke="#7b8296" stroke-width="0.5"/>
<line x1="461.0" y1="243" x2="461.0" y2="243.9" stroke="#7b8296" stroke-width="0.5"/>
<line x1="481.0" y1="243" x2="481.0" y2="243.9" stroke="#7b8296" stroke-width="0.5"/>
<line x1="501.38" y1="243" x2="501.38" y2="243.9" stroke="#7b8296" stroke-width="0.5"/>
<line x1="522.0" y1="243" x2="522.0" y2="243.9" stroke="#7b8296" stroke-width="0.5"/>
<line x1="455.5" y1="174.5" x2="455.5" y2="243" stroke="#72b8e6" stroke-width="0.85"/>
<polyline points="431.50,219.25 433.51,215.29 435.53,211.93 437.55,209.03 439.56,206.52 441.57,204.31 443.59,202.36 445.61,200.62 447.62,199.06 449.63,197.65 451.65,196.38 453.67,195.22 455.68,194.16 457.69,193.19 459.71,192.29 461.73,191.46 463.74,190.70 465.75,189.98 467.77,189.32 469.78,188.70 471.80,188.12 473.81,187.57 475.83,187.06 477.85,186.58 479.86,186.12 481.88,185.69 483.89,185.28 485.90,184.90 487.92,184.53 489.94,184.18 491.95,183.85 493.97,183.54 495.98,183.24 498.00,182.95 500.01,182.68 502.02,182.41 504.04,182.16 506.06,181.92 508.07,181.69 510.08,181.47 512.10,181.25 514.12,181.05 516.13,180.85 518.14,180.66 520.16,180.48 522.17,180.30 524.19,180.13 526.21,179.96 528.22,179.80 530.24,179.65 532.25,179.50" fill="none" stroke="#505050" stroke-width="0.8" stroke-opacity="1" stroke-linejoin="round"/>
<rect x="430.9" y="221.65" width="2.2" height="2.2" fill="#45c46a" opacity="0.72"/>
<rect x="430.9" y="215.9" width="2.2" height="2.2" fill="#ea4a3c" opacity="0.72"/>
<rect x="431.9" y="214.4" width="2.2" height="2.2" fill="#f5a34a" opacity="0.72"/>
<rect x="433.9" y="211.9" width="2.2" height="2.2" fill="#f27fa8" opacity="0.72"/>
<rect x="436.4" y="207.4" width="2.2" height="2.2" fill="#b8973a" opacity="0.72"/>
<rect x="442.9" y="204.4" width="2.2" height="2.2" fill="#b07ccf" opacity="0.72"/>
<rect x="455.4" y="192.9" width="2.2" height="2.2" fill="#e9cf3e" opacity="0.72"/>
<rect x="481.4" y="182.9" width="2.2" height="2.2" fill="#ea4a3c" opacity="0.72"/>
<rect x="531.65" y="178.9" width="2.2" height="2.2" fill="#7cc4ec" opacity="0.72"/>
<text x="501" y="200.5" font-size="8.2" fill="#ee2a22" font-weight="normal" text-anchor="start" stroke="#ee2a22" stroke-width="0.18">12.0 μM</text>
<line x1="422.9" y1="258.75" x2="422.9" y2="326.75" stroke="#7b8296" stroke-width="0.75"/>
<line x1="422.9" y1="326.75" x2="542" y2="326.75" stroke="#7b8296" stroke-width="0.75"/>
<line x1="421.6" y1="266.25" x2="422.9" y2="266.25" stroke="#7b8296" stroke-width="0.6"/>
<text x="419.9" y="267.35" font-size="3.3" fill="#6e6e6e" font-weight="normal" text-anchor="end" >1.5</text>
<line x1="421.6" y1="275.75" x2="422.9" y2="275.75" stroke="#7b8296" stroke-width="0.6"/>
<text x="419.9" y="276.85" font-size="3.3" fill="#6e6e6e" font-weight="normal" text-anchor="end" >1.25</text>
<line x1="421.6" y1="285" x2="422.9" y2="285" stroke="#7b8296" stroke-width="0.6"/>
<text x="419.9" y="286.1" font-size="3.3" fill="#6e6e6e" font-weight="normal" text-anchor="end" >1</text>
<line x1="421.6" y1="294.25" x2="422.9" y2="294.25" stroke="#7b8296" stroke-width="0.6"/>
<text x="419.9" y="295.35" font-size="3.3" fill="#6e6e6e" font-weight="normal" text-anchor="end" >0.75</text>
<line x1="421.6" y1="303.25" x2="422.9" y2="303.25" stroke="#7b8296" stroke-width="0.6"/>
<text x="419.9" y="304.35" font-size="3.3" fill="#6e6e6e" font-weight="normal" text-anchor="end" >0.5</text>
<line x1="421.6" y1="312.5" x2="422.9" y2="312.5" stroke="#7b8296" stroke-width="0.6"/>
<text x="419.9" y="313.6" font-size="3.3" fill="#6e6e6e" font-weight="normal" text-anchor="end" >0.25</text>
<line x1="421.6" y1="322" x2="422.9" y2="322" stroke="#7b8296" stroke-width="0.6"/>
<text x="419.9" y="323.1" font-size="3.3" fill="#6e6e6e" font-weight="normal" text-anchor="end" >0</text>
<line x1="422.1" y1="271.0" x2="422.9" y2="271.0" stroke="#7b8296" stroke-width="0.5"/>
<line x1="422.1" y1="280.38" x2="422.9" y2="280.38" stroke="#7b8296" stroke-width="0.5"/>
<line x1="422.1" y1="289.62" x2="422.9" y2="289.62" stroke="#7b8296" stroke-width="0.5"/>
<line x1="422.1" y1="298.75" x2="422.9" y2="298.75" stroke="#7b8296" stroke-width="0.5"/>
<line x1="422.1" y1="307.88" x2="422.9" y2="307.88" stroke="#7b8296" stroke-width="0.5"/>
<line x1="422.1" y1="317.25" x2="422.9" y2="317.25" stroke="#7b8296" stroke-width="0.5"/>
<line x1="431.5" y1="326.75" x2="431.5" y2="328.05" stroke="#7b8296" stroke-width="0.6"/>
<text x="431.5" y="331.25" font-size="3.3" fill="#6e6e6e" font-weight="normal" text-anchor="middle" >0</text>
<line x1="451" y1="326.75" x2="451" y2="328.05" stroke="#7b8296" stroke-width="0.6"/>
<text x="451" y="331.25" font-size="3.3" fill="#6e6e6e" font-weight="normal" text-anchor="middle" >0.000005</text>
<line x1="471" y1="326.75" x2="471" y2="328.05" stroke="#7b8296" stroke-width="0.6"/>
<text x="471" y="331.25" font-size="3.3" fill="#6e6e6e" font-weight="normal" text-anchor="middle" >0.00001</text>
<line x1="491.5" y1="326.75" x2="491.5" y2="328.05" stroke="#7b8296" stroke-width="0.6"/>
<text x="491.5" y="331.25" font-size="3.3" fill="#6e6e6e" font-weight="normal" text-anchor="middle" >0.000015</text>
<line x1="511.75" y1="326.75" x2="511.75" y2="328.05" stroke="#7b8296" stroke-width="0.6"/>
<text x="511.75" y="331.25" font-size="3.3" fill="#6e6e6e" font-weight="normal" text-anchor="middle" >0.00002</text>
<line x1="532.25" y1="326.75" x2="532.25" y2="328.05" stroke="#7b8296" stroke-width="0.6"/>
<text x="532.25" y="331.25" font-size="3.3" fill="#6e6e6e" font-weight="normal" text-anchor="middle" >0.000025</text>
<line x1="441.25" y1="326.75" x2="441.25" y2="327.65" stroke="#7b8296" stroke-width="0.5"/>
<line x1="461.0" y1="326.75" x2="461.0" y2="327.65" stroke="#7b8296" stroke-width="0.5"/>
<line x1="481.25" y1="326.75" x2="481.25" y2="327.65" stroke="#7b8296" stroke-width="0.5"/>
<line x1="501.62" y1="326.75" x2="501.62" y2="327.65" stroke="#7b8296" stroke-width="0.5"/>
<line x1="522.0" y1="326.75" x2="522.0" y2="327.65" stroke="#7b8296" stroke-width="0.5"/>
<line x1="463.5" y1="258.75" x2="463.5" y2="326.75" stroke="#72b8e6" stroke-width="0.85"/>
<polyline points="431.50,313.75 433.51,309.30 435.53,305.44 437.55,302.06 439.56,299.07 441.57,296.40 443.59,294.01 445.61,291.86 447.62,289.92 449.63,288.14 451.65,286.52 453.67,285.04 455.68,283.67 457.69,282.41 459.71,281.23 461.73,280.15 463.74,279.13 465.75,278.19 467.77,277.30 469.78,276.47 471.80,275.69 473.81,274.95 475.83,274.26 477.85,273.61 479.86,272.99 481.88,272.40 483.89,271.84 485.90,271.31 487.92,270.81 489.94,270.33 491.95,269.87 493.97,269.43 495.98,269.01 498.00,268.61 500.01,268.23 502.02,267.86 504.04,267.51 506.06,267.17 508.07,266.85 510.08,266.53 512.10,266.23 514.12,265.94 516.13,265.67 518.14,265.40 520.16,265.14 522.17,264.89 524.19,264.64 526.21,264.41 528.22,264.18 530.24,263.96 532.25,263.75" fill="none" stroke="#505050" stroke-width="0.8" stroke-opacity="1" stroke-linejoin="round"/>
<rect x="430.9" y="313.9" width="2.2" height="2.2" fill="#ea4a3c" opacity="0.72"/>
<rect x="431.9" y="310.15" width="2.2" height="2.2" fill="#45c46a" opacity="0.72"/>
<rect x="432.9" y="306.9" width="2.2" height="2.2" fill="#f5a34a" opacity="0.72"/>
<rect x="436.9" y="300.4" width="2.2" height="2.2" fill="#f27fa8" opacity="0.72"/>
<rect x="442.9" y="290.9" width="2.2" height="2.2" fill="#b8973a" opacity="0.72"/>
<rect x="455.4" y="288.4" width="2.2" height="2.2" fill="#b07ccf" opacity="0.72"/>
<rect x="481.4" y="267.65" width="2.2" height="2.2" fill="#e9cf3e" opacity="0.72"/>
<rect x="531.65" y="262.9" width="2.2" height="2.2" fill="#ea4a3c" opacity="0.72"/>
<text x="501" y="285.5" font-size="8.2" fill="#ee2a22" font-weight="normal" text-anchor="start" stroke="#ee2a22" stroke-width="0.18">8.0 μM</text>
<text x="0" y="0" font-size="7.9" fill="#222" stroke="#222" stroke-width="0.15" text-anchor="middle" transform="translate(10.4,41) rotate(-90)">Response Units (RU)</text>
<text x="0" y="0" font-size="7.9" fill="#222" stroke="#222" stroke-width="0.15" text-anchor="middle" transform="translate(10.4,120) rotate(-90)">Response Units (RU)</text>
<text x="0" y="0" font-size="7.9" fill="#222" stroke="#222" stroke-width="0.15" text-anchor="middle" transform="translate(10.4,206) rotate(-90)">Response Units (RU)</text>
<text x="0" y="0" font-size="7.9" fill="#222" stroke="#222" stroke-width="0.15" text-anchor="middle" transform="translate(10.4,289.5) rotate(-90)">Response Units (RU)</text>
<text x="0" y="0" font-size="7.9" fill="#222" stroke="#222" stroke-width="0.15" text-anchor="middle" transform="translate(282.4,41.5) rotate(-90)">Response Units (RU)</text>
<text x="0" y="0" font-size="7.9" fill="#222" stroke="#222" stroke-width="0.15" text-anchor="middle" transform="translate(282.4,121) rotate(-90)">Response Units (RU)</text>
<text x="0" y="0" font-size="7.9" fill="#222" stroke="#222" stroke-width="0.15" text-anchor="middle" transform="translate(282.4,206) rotate(-90)">Response Units (RU)</text>
<text x="0" y="0" font-size="7.9" fill="#222" stroke="#222" stroke-width="0.15" text-anchor="middle" transform="translate(282.4,290) rotate(-90)">Response Units (RU)</text>
<line x1="22.4" y1="7" x2="22.4" y2="78" stroke="#7b8296" stroke-width="0.75"/>
<line x1="22.4" y1="78" x2="140.7" y2="78" stroke="#7b8296" stroke-width="0.75"/>
<line x1="20.8" y1="17" x2="22.4" y2="17" stroke="#7b8296" stroke-width="0.7"/>
<text x="19.8" y="18.2" font-size="3.5" fill="#767676" font-weight="normal" text-anchor="end" >5</text>
<line x1="20.8" y1="29" x2="22.4" y2="29" stroke="#7b8296" stroke-width="0.7"/>
<text x="19.8" y="30.2" font-size="3.5" fill="#767676" font-weight="normal" text-anchor="end" >2.5</text>
<line x1="20.8" y1="41" x2="22.4" y2="41" stroke="#7b8296" stroke-width="0.7"/>
<text x="19.8" y="42.2" font-size="3.5" fill="#767676" font-weight="normal" text-anchor="end" >0</text>
<line x1="20.8" y1="53" x2="22.4" y2="53" stroke="#7b8296" stroke-width="0.7"/>
<text x="19.8" y="54.2" font-size="3.5" fill="#767676" font-weight="normal" text-anchor="end" >-2.5</text>
<line x1="20.8" y1="65" x2="22.4" y2="65" stroke="#7b8296" stroke-width="0.7"/>
<text x="19.8" y="66.2" font-size="3.5" fill="#767676" font-weight="normal" text-anchor="end" >-5</text>
<line x1="21.4" y1="23.0" x2="22.4" y2="23.0" stroke="#7b8296" stroke-width="0.5"/>
<line x1="21.4" y1="35.0" x2="22.4" y2="35.0" stroke="#7b8296" stroke-width="0.5"/>
<line x1="21.4" y1="47.0" x2="22.4" y2="47.0" stroke="#7b8296" stroke-width="0.5"/>
<line x1="21.4" y1="59.0" x2="22.4" y2="59.0" stroke="#7b8296" stroke-width="0.5"/>
<line x1="26" y1="78" x2="26" y2="79.5" stroke="#7b8296" stroke-width="0.7"/>
<line x1="47" y1="78" x2="47" y2="79.5" stroke="#7b8296" stroke-width="0.7"/>
<text x="47" y="83.2" font-size="3.5" fill="#767676" font-weight="normal" text-anchor="middle" >0</text>
<line x1="68.5" y1="78" x2="68.5" y2="79.5" stroke="#7b8296" stroke-width="0.7"/>
<line x1="90" y1="78" x2="90" y2="79.5" stroke="#7b8296" stroke-width="0.7"/>
<text x="90" y="83.2" font-size="3.5" fill="#767676" font-weight="normal" text-anchor="middle" >100</text>
<line x1="111" y1="78" x2="111" y2="79.5" stroke="#7b8296" stroke-width="0.7"/>
<line x1="132" y1="78" x2="132" y2="79.5" stroke="#7b8296" stroke-width="0.7"/>
<text x="132" y="83.2" font-size="3.5" fill="#767676" font-weight="normal" text-anchor="middle" >200</text>
<text x="24" y="15" font-size="11.5" fill="#111" font-weight="normal" text-anchor="start" stroke="#111" stroke-width="0.15">(A)</text>
<text x="53" y="18.2" fill="#111" stroke="#111" stroke-width="0.2"><tspan font-size="9.4" font-weight="bold">1 </tspan><tspan font-size="8.0">Arbidol</tspan><tspan font-size="7.1"> (replicate 1)</tspan></text>
<text x="56.5" y="51.5" font-size="8.0" fill="#111" font-weight="bold" text-anchor="start" stroke="#111" stroke-width="0.15">S2</text>
<polyline points="30.50,41.40 31.50,41.40 31.60,35.20 32.40,40.80 33.50,41.50 34.00,41.30 36.05,41.30 38.10,41.30 40.15,41.30 42.20,41.30 44.25,41.30 46.30,41.30" fill="none" stroke="#c07080" stroke-width="0.85" stroke-opacity="1" stroke-linejoin="round"/>
<polyline points="48.00,13.20 48.00,39.60 48.60,40.20 48.60,40.20 50.97,40.10 53.33,40.05 55.70,40.01 58.07,39.96 60.43,39.92 62.80,39.87 65.17,39.83 67.53,39.78 69.90,39.74 72.27,39.69 74.63,39.65 77.00,39.60" fill="none" stroke="#7cc4ec" stroke-width="0.8" stroke-opacity="1" stroke-linejoin="round"/>
<polyline points="48.00,24.00 48.00,38.40 48.60,39.00 48.60,39.00 50.97,38.98 53.33,38.98 55.70,38.97 58.07,38.96 60.43,38.95 62.80,38.95 65.17,38.94 67.53,38.93 69.90,38.92 72.27,38.92 74.63,38.91 77.00,38.90" fill="none" stroke="#f5a34a" stroke-width="0.8" stroke-opacity="1" stroke-linejoin="round"/>
<polyline points="48.00,30.00 48.00,37.60 48.60,38.20 48.60,38.20 50.97,38.23 53.33,38.25 55.70,38.26 58.07,38.28 60.43,38.29 62.80,38.31 65.17,38.32 67.53,38.34 69.90,38.35 72.27,38.37 74.63,38.38 77.00,38.40" fill="none" stroke="#e9cf3e" stroke-width="0.8" stroke-opacity="1" stroke-linejoin="round"/>
<polyline points="48.00,30.00 48.00,36.80 48.60,37.40 48.60,37.40 50.97,37.50 53.33,37.55 55.70,37.59 58.07,37.64 60.43,37.68 62.80,37.73 65.17,37.77 67.53,37.82 69.90,37.86 72.27,37.91 74.63,37.95 77.00,38.00" fill="none" stroke="#45c46a" stroke-width="0.8" stroke-opacity="1" stroke-linejoin="round"/>
<polyline points="48.00,30.00 48.00,35.80 48.60,36.40 48.60,36.40 50.97,36.57 53.33,36.65 55.70,36.72 58.07,36.80 60.43,36.87 62.80,36.95 65.17,37.02 67.53,37.10 69.90,37.17 72.27,37.25 74.63,37.32 77.00,37.40" fill="none" stroke="#b8973a" stroke-width="0.8" stroke-opacity="1" stroke-linejoin="round"/>
<polyline points="48.00,30.00 48.00,34.60 48.60,35.20 48.60,35.20 50.97,35.48 53.33,35.62 55.70,35.75 58.07,35.88 60.43,36.01 62.80,36.13 65.17,36.26 67.53,36.39 69.90,36.52 72.27,36.64 74.63,36.77 77.00,36.90" fill="none" stroke="#b07ccf" stroke-width="0.8" stroke-opacity="1" stroke-linejoin="round"/>
<polyline points="48.00,30.00 48.00,33.40 48.60,34.00 48.60,34.00 50.97,34.40 53.33,34.60 55.70,34.78 58.07,34.96 60.43,35.14 62.80,35.32 65.17,35.50 67.53,35.68 69.90,35.86 72.27,36.04 74.63,36.22 77.00,36.40" fill="none" stroke="#e07a8c" stroke-width="0.8" stroke-opacity="1" stroke-linejoin="round"/>
<path d="M77.6,35v6.9M80,35v6.9M77.6,38.45h2.4" stroke="#2c3b58" stroke-width="1.3" fill="none"/>
<polyline points="81.50,38.50 81.60,71.80 82.10,43.00 83.50,42.50 85.00,42.30 90.04,42.25 95.08,42.20 100.12,42.15 105.16,42.10 110.20,42.05 115.24,42.00 120.28,41.95 125.32,41.90 130.36,41.85 135.40,41.80" fill="none" stroke="#7cc4ec" stroke-width="0.8" stroke-opacity="1" stroke-linejoin="round"/>
<polyline points="81.50,38.50 81.60,60.00 82.10,43.00 83.50,42.50 85.00,42.30 90.04,42.25 95.08,42.20 100.12,42.15 105.16,42.10 110.20,42.05 115.24,42.00 120.28,41.95 125.32,41.90 130.36,41.85 135.40,41.80" fill="none" stroke="#f5a34a" stroke-width="0.8" stroke-opacity="1" stroke-linejoin="round"/>
<polyline points="81.50,38.50 81.60,52.00 82.10,43.00 83.50,42.50 85.00,42.30 90.04,42.25 95.08,42.20 100.12,42.15 105.16,42.10 110.20,42.05 115.24,42.00 120.28,41.95 125.32,41.90 130.36,41.85 135.40,41.80" fill="none" stroke="#e9cf3e" stroke-width="0.8" stroke-opacity="1" stroke-linejoin="round"/>
<polyline points="81.50,38.50 81.60,58.00 82.10,43.00 83.50,42.50 85.00,42.30 90.04,42.25 95.08,42.20 100.12,42.15 105.16,42.10 110.20,42.05 115.24,42.00 120.28,41.95 125.32,41.90 130.36,41.85 135.40,41.80" fill="none" stroke="#45c46a" stroke-width="0.8" stroke-opacity="1" stroke-linejoin="round"/>
<polyline points="81.50,38.50 81.60,56.00 82.10,43.00 83.50,42.50 85.00,42.30 90.04,42.25 95.08,42.20 100.12,42.15 105.16,42.10 110.20,42.05 115.24,42.00 120.28,41.95 125.32,41.90 130.36,41.85 135.40,41.80" fill="none" stroke="#b8973a" stroke-width="0.8" stroke-opacity="1" stroke-linejoin="round"/>
<polyline points="81.50,38.50 81.60,55.00 82.10,43.00 83.50,42.50 85.00,42.30 90.04,42.25 95.08,42.20 100.12,42.15 105.16,42.10 110.20,42.05 115.24,42.00 120.28,41.95 125.32,41.90 130.36,41.85 135.40,41.80" fill="none" stroke="#b07ccf" stroke-width="0.8" stroke-opacity="1" stroke-linejoin="round"/>
<polyline points="81.50,38.50 81.60,54.00 82.10,43.00 83.50,42.50 85.00,42.30 90.04,42.25 95.08,42.20 100.12,42.15 105.16,42.10 110.20,42.05 115.24,42.00 120.28,41.95 125.32,41.90 130.36,41.85 135.40,41.80" fill="none" stroke="#e07a8c" stroke-width="0.8" stroke-opacity="1" stroke-linejoin="round"/>
<polyline points="82.00,42.50 135.40,41.80" fill="none" stroke="#d07a88" stroke-width="0.9" stroke-opacity="1" stroke-linejoin="round"/>
<line x1="22.8" y1="87.5" x2="22.8" y2="159.2" stroke="#7b8296" stroke-width="0.75"/>
<line x1="22.8" y1="159.2" x2="142.9" y2="159.2" stroke="#7b8296" stroke-width="0.75"/>
<line x1="21.2" y1="88" x2="22.8" y2="88" stroke="#7b8296" stroke-width="0.7"/>
<text x="20.2" y="89.2" font-size="3.5" fill="#767676" font-weight="normal" text-anchor="end" >2</text>
<line x1="21.2" y1="97.5" x2="22.8" y2="97.5" stroke="#7b8296" stroke-width="0.7"/>
<text x="20.2" y="98.7" font-size="3.5" fill="#767676" font-weight="normal" text-anchor="end" >1.5</text>
<line x1="21.2" y1="107.5" x2="22.8" y2="107.5" stroke="#7b8296" stroke-width="0.7"/>
<text x="20.2" y="108.7" font-size="3.5" fill="#767676" font-weight="normal" text-anchor="end" >1</text>
<line x1="21.2" y1="117.5" x2="22.8" y2="117.5" stroke="#7b8296" stroke-width="0.7"/>
<text x="20.2" y="118.7" font-size="3.5" fill="#767676" font-weight="normal" text-anchor="end" >0.5</text>
<line x1="21.2" y1="127.5" x2="22.8" y2="127.5" stroke="#7b8296" stroke-width="0.7"/>
<text x="20.2" y="128.7" font-size="3.5" fill="#767676" font-weight="normal" text-anchor="end" >0</text>
<line x1="21.2" y1="137.5" x2="22.8" y2="137.5" stroke="#7b8296" stroke-width="0.7"/>
<text x="20.2" y="138.7" font-size="3.5" fill="#767676" font-weight="normal" text-anchor="end" >-0.5</text>
<line x1="21.2" y1="147.5" x2="22.8" y2="147.5" stroke="#7b8296" stroke-width="0.7"/>
<text x="20.2" y="148.7" font-size="3.5" fill="#767676" font-weight="normal" text-anchor="end" >-1</text>
<line x1="21.2" y1="157.5" x2="22.8" y2="157.5" stroke="#7b8296" stroke-width="0.7"/>
<text x="20.2" y="158.7" font-size="3.5" fill="#767676" font-weight="normal" text-anchor="end" >-1.5</text>
<line x1="21.8" y1="92.75" x2="22.8" y2="92.75" stroke="#7b8296" stroke-width="0.5"/>
<line x1="21.8" y1="102.5" x2="22.8" y2="102.5" stroke="#7b8296" stroke-width="0.5"/>
<line x1="21.8" y1="112.5" x2="22.8" y2="112.5" stroke="#7b8296" stroke-width="0.5"/>
<line x1="21.8" y1="122.5" x2="22.8" y2="122.5" stroke="#7b8296" stroke-width="0.5"/>
<line x1="21.8" y1="132.5" x2="22.8" y2="132.5" stroke="#7b8296" stroke-width="0.5"/>
<line x1="21.8" y1="142.5" x2="22.8" y2="142.5" stroke="#7b8296" stroke-width="0.5"/>
<line x1="21.8" y1="152.5" x2="22.8" y2="152.5" stroke="#7b8296" stroke-width="0.5"/>
<line x1="27" y1="159.2" x2="27" y2="160.7" stroke="#7b8296" stroke-width="0.7"/>
<line x1="48" y1="159.2" x2="48" y2="160.7" stroke="#7b8296" stroke-width="0.7"/>
<text x="48" y="164.4" font-size="3.5" fill="#767676" font-weight="normal" text-anchor="middle" >0</text>
<line x1="69" y1="159.2" x2="69" y2="160.7" stroke="#7b8296" stroke-width="0.7"/>
<line x1="90" y1="159.2" x2="90" y2="160.7" stroke="#7b8296" stroke-width="0.7"/>
<text x="90" y="164.4" font-size="3.5" fill="#767676" font-weight="normal" text-anchor="middle" >100</text>
<line x1="111" y1="159.2" x2="111" y2="160.7" stroke="#7b8296" stroke-width="0.7"/>
<line x1="132" y1="159.2" x2="132" y2="160.7" stroke="#7b8296" stroke-width="0.7"/>
<text x="132" y="164.4" font-size="3.5" fill="#767676" font-weight="normal" text-anchor="middle" >200</text>
<text x="53" y="98.2" fill="#111" stroke="#111" stroke-width="0.2"><tspan font-size="9.4" font-weight="bold">1 </tspan><tspan font-size="8.0">Arbidol</tspan><tspan font-size="7.1"> (replicate 2)</tspan></text>
<text x="61" y="141.2" font-size="8.0" fill="#111" font-weight="bold" text-anchor="start" stroke="#111" stroke-width="0.15">S2</text>
<polyline points="34.30,127.31 35.33,126.62 36.36,126.79 37.39,126.47 38.41,127.44 39.44,127.05 40.47,127.45 41.50,126.73 42.53,126.56 43.56,127.50 44.59,127.78 45.61,127.56 46.64,127.49 47.67,127.51 48.70,127.38" fill="none" stroke="#b07ccf" stroke-width="0.7" stroke-opacity="1" stroke-linejoin="round"/>
<polyline points="34.30,126.56 35.33,127.03 36.36,126.77 37.39,126.25 38.41,126.24 39.44,126.65 40.47,126.61 41.50,127.31 42.53,127.73 43.56,126.92 44.59,127.70 45.61,127.78 46.64,127.73 47.67,126.78 48.70,126.55" fill="none" stroke="#b8973a" stroke-width="0.7" stroke-opacity="1" stroke-linejoin="round"/>
<polyline points="34.30,126.56 35.33,126.51 36.36,126.53 37.39,127.20 38.41,127.64 39.44,127.54 40.47,126.97 41.50,127.24 42.53,127.48 43.56,126.34 44.59,127.26 45.61,127.66 46.64,127.45 47.67,127.40 48.70,126.96" fill="none" stroke="#e9cf3e" stroke-width="0.7" stroke-opacity="1" stroke-linejoin="round"/>
<polyline points="34.30,126.49 35.33,127.46 36.36,126.73 37.39,127.48 38.41,127.75 39.44,126.83 40.47,126.84 41.50,127.71 42.53,127.36 43.56,126.47 44.59,126.40 45.61,126.44 46.64,127.65 47.67,127.49 48.70,126.43" fill="none" stroke="#f27fa8" stroke-width="0.7" stroke-opacity="1" stroke-linejoin="round"/>
<polyline points="34.30,127.52 35.33,127.77 36.36,127.25 37.39,126.76 38.41,127.08 39.44,126.41 40.47,126.22 41.50,127.75 42.53,127.24 43.56,127.04 44.59,127.69 45.61,126.89 46.64,127.59 47.67,127.52 48.70,126.54" fill="none" stroke="#45c46a" stroke-width="0.7" stroke-opacity="1" stroke-linejoin="round"/>
<polyline points="32.60,127.00 33.10,91.40 33.40,153.50 34.00,128.00" fill="none" stroke="#c79ad6" stroke-width="0.7" stroke-opacity="0.9" stroke-linejoin="round"/>
<polyline points="48.70,127.00 49.40,100.00 49.60,100.00 50.77,100.93 51.93,102.14 53.10,103.17 54.27,104.62 55.43,105.20 56.60,106.30 57.77,106.82 58.93,108.56 60.10,108.66 61.27,109.51 62.43,110.34 63.60,111.36 64.77,111.38 65.93,112.55 67.10,112.58 68.27,113.12 69.43,113.59 70.60,113.43 71.77,114.36 72.93,114.45 74.10,114.61 75.27,115.91 76.43,115.49 77.60,116.20" fill="none" stroke="#b07ccf" stroke-width="0.8" stroke-opacity="1" stroke-linejoin="round"/>
<polyline points="48.70,127.00 49.40,105.00 49.60,105.00 50.77,105.96 51.93,107.19 53.10,107.86 54.27,108.41 55.43,109.42 56.60,110.20 57.77,111.17 58.93,111.00 60.10,112.16 61.27,112.37 62.43,112.95 63.60,114.05 64.77,114.22 65.93,114.74 67.10,115.41 68.27,116.00 69.43,115.81 70.60,116.38 71.77,116.59 72.93,116.91 74.10,117.43 75.27,117.42 76.43,117.79 77.60,118.00" fill="none" stroke="#b8973a" stroke-width="0.8" stroke-opacity="1" stroke-linejoin="round"/>
<polyline points="48.70,127.00 49.40,107.00 49.60,107.00 50.77,107.92 51.93,109.37 53.10,109.93 54.27,110.93 55.43,111.76 56.60,111.65 57.77,112.67 58.93,113.76 60.10,114.23 61.27,113.94 62.43,114.44 63.60,115.32 64.77,115.34 65.93,115.98 67.10,116.20 68.27,117.30 69.43,117.80 70.60,118.29 71.77,117.72 72.93,118.70 74.10,118.92 75.27,118.57 76.43,119.72 77.60,119.50" fill="none" stroke="#e9cf3e" stroke-width="0.8" stroke-opacity="1" stroke-linejoin="round"/>
<polyline points="48.70,127.00 49.40,110.00 49.60,110.00 50.77,111.53 51.93,111.55 53.10,113.30 54.27,113.44 55.43,114.32 56.60,115.64 57.77,116.14 58.93,115.97 60.10,116.90 61.27,117.57 62.43,117.89 63.60,118.23 64.77,118.85 65.93,119.78 67.10,119.36 68.27,120.40 69.43,120.64 70.60,120.49 71.77,121.20 72.93,121.86 74.10,122.03 75.27,121.77 76.43,123.13 77.60,122.80" fill="none" stroke="#f27fa8" stroke-width="0.8" stroke-opacity="1" stroke-linejoin="round"/>
<polyline points="48.70,127.00 49.40,115.00 49.60,115.00 50.77,116.14 51.93,117.12 53.10,116.78 54.27,117.64 55.43,118.00 56.60,119.48 57.77,119.43 58.93,119.79 60.10,120.63 61.27,121.69 62.43,122.02 63.60,121.76 64.77,122.02 65.93,123.31 67.10,123.24 68.27,123.72 69.43,123.30 70.60,123.55 71.77,124.58 72.93,124.52 74.10,124.34 75.27,125.61 76.43,125.46 77.60,125.50" fill="none" stroke="#45c46a" stroke-width="0.8" stroke-opacity="1" stroke-linejoin="round"/>
<polyline points="48.70,127.00 49.40,119.00 49.60,119.00 50.77,119.93 51.93,119.61 53.10,121.04 54.27,120.57 55.43,121.97 56.60,121.91 57.77,122.17 58.93,122.80 60.10,123.60 61.27,123.15 62.43,123.29 63.60,124.07 64.77,124.00 65.93,124.11 67.10,124.42 68.27,124.52 69.43,124.92 70.60,125.26 71.77,125.45 72.93,126.18 74.10,125.79 75.27,126.20 76.43,125.97 77.60,126.50" fill="none" stroke="#f5a34a" stroke-width="0.8" stroke-opacity="1" stroke-linejoin="round"/>
<polyline points="48.70,127.00 49.40,122.00 49.60,122.00 50.77,122.31 51.93,122.38 53.10,123.10 54.27,123.23 55.43,124.48 56.60,124.63 57.77,124.54 58.93,125.21 60.10,126.07 61.27,125.36 62.43,126.49 63.60,126.28 64.77,126.60 65.93,127.23 67.10,126.92 68.27,127.26 69.43,127.67 70.60,128.20 71.77,127.60 72.93,128.35 74.10,128.35 75.27,128.40 76.43,128.26 77.60,128.50" fill="none" stroke="#ea4a3c" stroke-width="0.8" stroke-opacity="1" stroke-linejoin="round"/>
<polyline points="48.70,127.00 49.40,132.00 49.60,132.00 50.77,131.67 51.93,131.17 53.10,131.13 54.27,130.93 55.43,131.61 56.60,130.92 57.77,130.70 58.93,130.50 60.10,131.32 61.27,131.26 62.43,130.94 63.60,130.40 64.77,130.27 65.93,130.26 67.10,130.40 68.27,129.97 69.43,130.26 70.60,129.99 71.77,130.77 72.93,130.74 74.10,130.18 75.27,129.77 76.43,130.60 77.60,130.00" fill="none" stroke="#2fa84a" stroke-width="0.8" stroke-opacity="1" stroke-linejoin="round"/>
<rect x="77.6" y="115.9" width="4.6" height="16.7" fill="#5f6d86"/>
<rect x="79.45" y="117.09" width="0.9" height="1.8" fill="#dfe6ee"/>
<rect x="79.45" y="121.26" width="0.9" height="1.8" fill="#dfe6ee"/>
<rect x="79.45" y="125.44" width="0.9" height="1.8" fill="#dfe6ee"/>
<rect x="79.45" y="129.61" width="0.9" height="1.8" fill="#dfe6ee"/>
<polyline points="83.50,129.57 85.52,129.63 87.54,129.20 89.56,129.66 91.58,129.77 93.60,129.80 95.62,129.44 97.63,129.81 99.65,129.21 101.67,129.52 103.69,129.31 105.71,129.68 107.73,129.25 109.75,129.23 111.77,129.57 113.79,129.48 115.81,129.90 117.83,129.84 119.85,130.10 121.87,129.99 123.88,130.06 125.90,130.25 127.92,129.67 129.94,129.59 131.96,130.38 133.98,129.38 136.00,130.07" fill="none" stroke="#b8973a" stroke-width="0.7" stroke-opacity="1" stroke-linejoin="round"/>
<polyline points="83.50,129.97 85.52,129.25 87.54,130.20 89.56,130.27 91.58,129.95 93.60,130.08 95.62,130.17 97.63,129.37 99.65,129.83 101.67,129.81 103.69,130.20 105.71,130.17 107.73,130.19 109.75,129.90 111.77,130.27 113.79,130.02 115.81,130.03 117.83,129.48 119.85,129.24 121.87,129.36 123.88,129.63 125.90,129.33 127.92,130.20 129.94,129.87 131.96,129.95 133.98,129.95 136.00,130.02" fill="none" stroke="#e9cf3e" stroke-width="0.7" stroke-opacity="1" stroke-linejoin="round"/>
<polyline points="83.50,129.79 85.52,129.20 87.54,130.16 89.56,130.10 91.58,129.80 93.60,129.84 95.62,129.99 97.63,129.28 99.65,130.08 101.67,129.50 103.69,129.29 105.71,129.52 107.73,130.08 109.75,129.45 111.77,130.09 113.79,130.37 115.81,129.79 117.83,129.66 119.85,129.77 121.87,130.02 123.88,130.12 125.90,129.94 127.92,129.97 129.94,129.29 131.96,129.38 133.98,129.50 136.00,130.09" fill="none" stroke="#f27fa8" stroke-width="0.7" stroke-opacity="1" stroke-linejoin="round"/>
<polyline points="83.50,129.57 85.52,129.88 87.54,129.21 89.56,129.27 91.58,129.52 93.60,130.01 95.62,130.03 97.63,130.01 99.65,129.55 101.67,129.82 103.69,129.76 105.71,129.76 107.73,129.34 109.75,130.27 111.77,129.44 113.79,130.37 115.81,130.32 117.83,129.22 119.85,129.75 121.87,130.18 123.88,130.36 125.90,129.74 127.92,129.52 129.94,129.45 131.96,130.33 133.98,129.45 136.00,129.90" fill="none" stroke="#45c46a" stroke-width="0.7" stroke-opacity="1" stroke-linejoin="round"/>
<polyline points="83.50,129.37 85.52,129.83 87.54,130.34 89.56,129.36 91.58,130.18 93.60,129.81 95.62,130.26 97.63,130.04 99.65,129.48 101.67,130.28 103.69,129.78 105.71,129.23 107.73,129.20 109.75,129.79 111.77,129.74 113.79,129.56 115.81,129.37 117.83,129.61 119.85,129.58 121.87,130.21 123.88,129.20 125.90,130.10 127.92,130.21 129.94,129.34 131.96,130.31 133.98,130.06 136.00,130.28" fill="none" stroke="#f5a34a" stroke-width="0.7" stroke-opacity="1" stroke-linejoin="round"/>
<polyline points="83.50,129.55 85.52,129.65 87.54,129.67 89.56,130.40 91.58,129.91 93.60,129.63 95.62,129.71 97.63,129.53 99.65,129.26 101.67,129.32 103.69,130.20 105.71,129.54 107.73,130.32 109.75,129.50 111.77,129.52 113.79,129.81 115.81,129.43 117.83,129.65 119.85,130.35 121.87,130.26 123.88,130.17 125.90,129.96 127.92,130.30 129.94,130.33 131.96,129.86 133.98,130.06 136.00,129.26" fill="none" stroke="#ea4a3c" stroke-width="0.7" stroke-opacity="1" stroke-linejoin="round"/>
<polyline points="83.50,130.08 85.52,129.74 87.54,130.10 89.56,129.97 91.58,129.54 93.60,129.26 95.62,130.31 97.63,129.35 99.65,129.77 101.67,129.61 103.69,129.56 105.71,130.09 107.73,130.37 109.75,129.51 111.77,129.99 113.79,129.56 115.81,129.87 117.83,129.67 119.85,129.40 121.87,129.39 123.88,129.45 125.90,130.29 127.92,129.80 129.94,129.46 131.96,130.29 133.98,130.40 136.00,129.74" fill="none" stroke="#2fa84a" stroke-width="0.7" stroke-opacity="1" stroke-linejoin="round"/>
<polyline points="82.80,101.00 82.80,139.50 83.40,130.00" fill="none" stroke="#d4a8dc" stroke-width="0.9" stroke-opacity="0.9" stroke-linejoin="round"/>
<polyline points="83.30,128.00 83.50,145.00 84.00,131.00" fill="none" stroke="#f5a34a" stroke-width="0.6" stroke-opacity="0.7" stroke-linejoin="round"/>
<line x1="22.3" y1="173" x2="22.3" y2="242.6" stroke="#7b8296" stroke-width="0.75"/>
<line x1="22.3" y1="242.6" x2="145.5" y2="242.6" stroke="#7b8296" stroke-width="0.75"/>
<line x1="20.7" y1="173.25" x2="22.3" y2="173.25" stroke="#7b8296" stroke-width="0.7"/>
<text x="19.7" y="174.45" font-size="3.5" fill="#767676" font-weight="normal" text-anchor="end" >5</text>
<line x1="20.7" y1="185" x2="22.3" y2="185" stroke="#7b8296" stroke-width="0.7"/>
<text x="19.7" y="186.2" font-size="3.5" fill="#767676" font-weight="normal" text-anchor="end" >4</text>
<line x1="20.7" y1="196.75" x2="22.3" y2="196.75" stroke="#7b8296" stroke-width="0.7"/>
<text x="19.7" y="197.95" font-size="3.5" fill="#767676" font-weight="normal" text-anchor="end" >3</text>
<line x1="20.7" y1="208.5" x2="22.3" y2="208.5" stroke="#7b8296" stroke-width="0.7"/>
<text x="19.7" y="209.7" font-size="3.5" fill="#767676" font-weight="normal" text-anchor="end" >2</text>
<line x1="20.7" y1="220.25" x2="22.3" y2="220.25" stroke="#7b8296" stroke-width="0.7"/>
<text x="19.7" y="221.45" font-size="3.5" fill="#767676" font-weight="normal" text-anchor="end" >1</text>
<line x1="20.7" y1="232" x2="22.3" y2="232" stroke="#7b8296" stroke-width="0.7"/>
<text x="19.7" y="233.2" font-size="3.5" fill="#767676" font-weight="normal" text-anchor="end" >0</text>
<line x1="21.3" y1="179.12" x2="22.3" y2="179.12" stroke="#7b8296" stroke-width="0.5"/>
<line x1="21.3" y1="190.88" x2="22.3" y2="190.88" stroke="#7b8296" stroke-width="0.5"/>
<line x1="21.3" y1="202.62" x2="22.3" y2="202.62" stroke="#7b8296" stroke-width="0.5"/>
<line x1="21.3" y1="214.38" x2="22.3" y2="214.38" stroke="#7b8296" stroke-width="0.5"/>
<line x1="21.3" y1="226.12" x2="22.3" y2="226.12" stroke="#7b8296" stroke-width="0.5"/>
<line x1="27.5" y1="242.6" x2="27.5" y2="244.1" stroke="#7b8296" stroke-width="0.7"/>
<line x1="48.5" y1="242.6" x2="48.5" y2="244.1" stroke="#7b8296" stroke-width="0.7"/>
<text x="48.5" y="247.8" font-size="3.5" fill="#767676" font-weight="normal" text-anchor="middle" >0</text>
<line x1="70" y1="242.6" x2="70" y2="244.1" stroke="#7b8296" stroke-width="0.7"/>
<line x1="91.5" y1="242.6" x2="91.5" y2="244.1" stroke="#7b8296" stroke-width="0.7"/>
<text x="91.5" y="247.8" font-size="3.5" fill="#767676" font-weight="normal" text-anchor="middle" >100</text>
<line x1="112.75" y1="242.6" x2="112.75" y2="244.1" stroke="#7b8296" stroke-width="0.7"/>
<line x1="134" y1="242.6" x2="134" y2="244.1" stroke="#7b8296" stroke-width="0.7"/>
<text x="134" y="247.8" font-size="3.5" fill="#767676" font-weight="normal" text-anchor="middle" >200</text>
<text x="25.5" y="181.6" font-size="11.5" fill="#111" font-weight="normal" text-anchor="start" stroke="#111" stroke-width="0.15">(B)</text>
<text x="58.4" y="180.0" fill="#111" stroke="#111" stroke-width="0.2"><tspan font-size="9.4" font-weight="bold">2 </tspan><tspan font-size="8.0">Clofazimine</tspan><tspan font-size="7.1"> (rep. 1)</tspan></text>
<text x="60.2" y="232.6" font-size="8.0" fill="#111" font-weight="bold" text-anchor="start" stroke="#111" stroke-width="0.15">S2</text>
<polyline points="31.90,230.50 32.10,235.40 32.60,230.80 33.00,230.10 34.10,230.16 35.20,230.00 36.30,230.34 37.40,229.97 38.50,230.16 39.60,230.18 40.70,230.60 41.80,231.03 42.90,230.82 44.00,230.34 45.10,230.32 46.20,230.46 47.30,230.24 48.40,230.17" fill="none" stroke="#b8973a" stroke-width="0.8" stroke-opacity="1" stroke-linejoin="round"/>
<polyline points="33.00,229.99 34.10,230.28 35.20,231.24 36.30,230.05 37.40,230.58 38.50,230.75 39.60,231.07 40.70,230.15 41.80,230.22 42.90,230.18 44.00,230.39 45.10,230.45 46.20,231.15 47.30,231.00 48.40,231.02" fill="none" stroke="#ea4a3c" stroke-width="0.7" stroke-opacity="1" stroke-linejoin="round"/>
<polyline points="48.80,231.00 49.30,188.76 49.60,185.76 49.85,184.80 50.21,183.74 50.61,182.37 51.00,180.99 51.34,180.24 51.68,179.33 52.05,179.06 52.50,179.01 53.05,178.77 53.69,178.72 54.35,178.90 55.00,178.87 55.62,179.42 56.25,180.31 56.88,181.49 57.50,182.59 58.11,183.82 58.72,184.92 59.34,186.07 60.00,187.13 60.67,187.77 61.34,188.46 62.10,188.76 63.00,189.64 63.98,189.81 65.02,190.52 66.31,190.72 68.00,190.90 70.50,191.22 73.61,191.72 76.56,192.30 78.60,192.60" fill="none" stroke="#e9cf3e" stroke-width="0.8" stroke-opacity="1" stroke-linejoin="round"/>
<polyline points="48.80,231.00 49.30,194.81 49.60,191.81 49.85,191.10 50.21,190.32 50.61,189.32 51.00,188.44 51.34,187.88 51.68,187.74 52.05,187.27 52.50,187.40 53.04,187.63 53.66,188.20 54.32,188.50 55.00,189.19 55.69,189.73 56.41,190.52 57.17,191.49 58.00,192.73 58.88,193.42 59.81,194.02 60.84,194.61 62.00,195.50 63.25,196.12 64.59,196.43 66.13,196.73 68.00,197.28 70.58,197.76 73.67,197.72 76.59,197.88 78.60,198.22" fill="none" stroke="#b07ccf" stroke-width="0.8" stroke-opacity="1" stroke-linejoin="round"/>
<polyline points="48.80,231.00 49.30,208.96 49.60,205.96 49.84,205.60 50.18,204.64 50.58,204.21 51.00,203.62 51.46,203.19 51.96,202.86 52.49,203.13 53.00,202.71 53.48,202.82 53.94,202.40 54.43,202.34 55.00,202.73 55.66,202.86 56.38,203.74 57.16,204.10 58.00,204.44 58.63,204.82 59.15,205.22 60.09,205.62 62.00,206.02 65.65,205.91 70.55,206.32 75.32,206.48 78.60,207.04" fill="none" stroke="#b8973a" stroke-width="0.8" stroke-opacity="1" stroke-linejoin="round"/>
<polyline points="48.80,231.00 49.30,218.32 49.60,215.32 49.81,215.03 50.11,214.69 50.50,214.50 51.00,214.50 51.57,214.38 52.21,214.27 53.00,214.41 54.00,214.42 55.20,214.17 56.56,214.19 58.15,214.68 60.00,214.72 62.25,214.54 64.84,215.08 67.50,215.15 70.00,215.34 72.45,215.47 74.92,215.53 77.09,215.57 78.60,215.79" fill="none" stroke="#f27fa8" stroke-width="0.8" stroke-opacity="1" stroke-linejoin="round"/>
<polyline points="48.80,231.00 49.30,222.43 49.60,219.43 49.95,219.50 50.43,218.74 51.09,218.81 52.00,218.15 53.15,218.05 54.52,218.15 56.13,218.05 58.00,217.77 60.20,217.50 62.71,217.66 65.36,217.57 68.00,217.81 70.86,217.41 73.92,217.47 76.68,217.71 78.60,217.27" fill="none" stroke="#45c46a" stroke-width="0.8" stroke-opacity="1" stroke-linejoin="round"/>
<polyline points="48.80,231.00 49.30,227.46 49.60,224.46 50.13,224.47 50.86,224.18 51.82,223.52 53.00,223.27 54.22,223.10 55.55,223.37 57.35,222.88 60.00,222.92 64.27,222.71 69.74,222.08 74.99,221.71 78.60,221.83" fill="none" stroke="#50c0b0" stroke-width="0.8" stroke-opacity="1" stroke-linejoin="round"/>
<polyline points="48.80,231.00 49.30,229.06 49.60,226.06 50.13,225.67 50.86,225.59 51.82,225.04 53.00,224.69 54.43,224.23 56.09,224.27 57.95,224.02 60.00,223.57 62.32,223.42 64.90,222.67 67.53,222.50 70.00,222.39 72.45,222.43 74.92,222.26 77.09,221.84 78.60,221.68" fill="none" stroke="#f5a34a" stroke-width="0.8" stroke-opacity="1" stroke-linejoin="round"/>
<polyline points="48.80,231.00 49.30,229.76 49.60,226.76 50.13,226.56 50.86,226.45 51.82,225.70 53.00,225.65 54.43,225.29 56.09,225.01 57.95,224.65 60.00,224.25 62.32,223.79 64.90,223.47 67.53,223.19 70.00,223.14 72.45,222.58 74.92,222.47 77.09,222.62 78.60,222.27" fill="none" stroke="#ea4a3c" stroke-width="0.8" stroke-opacity="1" stroke-linejoin="round"/>
<path d="M79.15,190.60v3.0M82.05,190.60v3.0M79.15,192.10h2.9" stroke="#2f3f5c" stroke-width="0.9" fill="none"/>
<path d="M79.15,196.90v3.0M82.05,196.90v3.0M79.15,198.40h2.9" stroke="#2f3f5c" stroke-width="0.9" fill="none"/>
<path d="M79.15,206.10v3.0M82.05,206.10v3.0M79.15,207.60h2.9" stroke="#2f3f5c" stroke-width="0.9" fill="none"/>
<path d="M79.15,214.70v3.0M82.05,214.70v3.0M79.15,216.20h2.9" stroke="#2f3f5c" stroke-width="0.9" fill="none"/>
<path d="M79.15,217.10v3.0M82.05,217.10v3.0M79.15,218.60h2.9" stroke="#2f3f5c" stroke-width="0.9" fill="none"/>
<path d="M79.15,220.70v3.0M82.05,220.70v3.0M79.15,222.20h2.9" stroke="#2f3f5c" stroke-width="0.9" fill="none"/>
<polyline points="83.20,223.70 83.30,232.50 84.20,229.50" fill="none" stroke="#e9cf3e" stroke-width="0.8" stroke-opacity="1" stroke-linejoin="round"/>
<polyline points="83.70,228.63 84.50,231.16 86.57,232.09 88.64,231.69 90.71,232.86 92.78,232.69 94.85,232.88 96.92,231.58 98.98,231.25 101.05,231.27 103.12,232.00 105.19,232.38 107.26,231.90 109.33,231.52 111.40,231.85 113.47,232.22 115.54,232.31 117.61,232.45 119.68,232.62 121.75,232.30 123.82,231.32 125.88,232.61 127.95,231.63 130.02,232.12 132.09,231.77 134.16,232.43 136.23,231.46 138.30,231.55" fill="none" stroke="#e9cf3e" stroke-width="0.7" stroke-opacity="1" stroke-linejoin="round"/>
<polyline points="83.70,228.99 84.50,230.78 86.57,232.09 88.64,231.54 90.71,231.09 92.78,231.21 94.85,232.29 96.92,231.41 98.98,230.92 101.05,231.96 103.12,231.68 105.19,232.28 107.26,230.68 109.33,231.35 111.40,231.97 113.47,232.01 115.54,232.15 117.61,230.57 119.68,231.03 121.75,230.71 123.82,230.84 125.88,232.25 127.95,231.55 130.02,232.17 132.09,231.17 134.16,232.06 136.23,231.31 138.30,230.97" fill="none" stroke="#b07ccf" stroke-width="0.7" stroke-opacity="1" stroke-linejoin="round"/>
<polyline points="83.70,230.06 84.50,233.20 86.57,231.69 88.64,232.57 90.71,232.62 92.78,231.89 94.85,232.16 96.92,231.75 98.98,231.87 101.05,231.96 103.12,232.58 105.19,232.67 107.26,231.87 109.33,231.52 111.40,232.09 113.47,232.72 115.54,231.83 117.61,232.06 119.68,231.87 121.75,232.93 123.82,232.49 125.88,231.61 127.95,231.68 130.02,232.21 132.09,232.49 134.16,232.65 136.23,231.66 138.30,231.79" fill="none" stroke="#b8973a" stroke-width="0.7" stroke-opacity="1" stroke-linejoin="round"/>
<polyline points="83.70,229.89 84.50,230.34 86.57,230.11 88.64,230.15 90.71,231.32 92.78,230.16 94.85,230.62 96.92,230.24 98.98,230.35 101.05,231.16 103.12,231.39 105.19,230.25 107.26,229.95 109.33,230.91 111.40,229.97 113.47,229.61 115.54,231.22 117.61,230.36 119.68,231.08 121.75,230.33 123.82,231.19 125.88,230.43 127.95,229.89 130.02,229.63 132.09,230.59 134.16,230.75 136.23,231.24 138.30,229.76" fill="none" stroke="#f27fa8" stroke-width="0.7" stroke-opacity="1" stroke-linejoin="round"/>
<polyline points="83.70,229.74 84.50,229.77 86.57,230.01 88.64,229.36 90.71,229.61 92.78,230.04 94.85,230.77 96.92,229.30 98.98,229.98 101.05,230.55 103.12,230.84 105.19,229.46 107.26,229.33 109.33,230.80 111.40,230.86 113.47,229.97 115.54,229.20 117.61,230.77 119.68,229.80 121.75,230.73 123.82,230.22 125.88,230.58 127.95,229.39 130.02,230.51 132.09,229.50 134.16,229.83 136.23,230.62 138.30,230.59" fill="none" stroke="#45c46a" stroke-width="0.7" stroke-opacity="1" stroke-linejoin="round"/>
<polyline points="83.70,228.87 84.50,229.09 86.57,229.42 88.64,229.63 90.71,229.39 92.78,228.92 94.85,229.14 96.92,230.00 98.98,230.32 101.05,228.77 103.12,229.71 105.19,230.06 107.26,228.77 109.33,230.21 111.40,228.91 113.47,229.78 115.54,229.69 117.61,229.83 119.68,229.25 121.75,229.46 123.82,229.75 125.88,229.47 127.95,229.89 130.02,229.50 132.09,229.49 134.16,228.74 136.23,229.81 138.30,229.58" fill="none" stroke="#50c0b0" stroke-width="0.7" stroke-opacity="1" stroke-linejoin="round"/>
<polyline points="83.70,228.97 84.50,231.57 86.57,231.60 88.64,231.02 90.71,230.52 92.78,231.05 94.85,230.39 96.92,230.43 98.98,230.98 101.05,230.37 103.12,231.00 105.19,231.12 107.26,230.27 109.33,231.35 111.40,230.35 113.47,231.52 115.54,231.60 117.61,231.12 119.68,230.30 121.75,231.11 123.82,230.88 125.88,231.91 127.95,230.45 130.02,231.74 132.09,231.99 134.16,231.52 136.23,231.67 138.30,230.55" fill="none" stroke="#f5a34a" stroke-width="0.7" stroke-opacity="1" stroke-linejoin="round"/>
<polyline points="83.70,230.46 84.50,231.59 86.57,232.42 88.64,232.35 90.71,231.00 92.78,232.12 94.85,232.38 96.92,230.82 98.98,231.33 101.05,232.06 103.12,230.99 105.19,232.31 107.26,231.19 109.33,232.17 111.40,230.96 113.47,231.60 115.54,232.36 117.61,231.07 119.68,231.17 121.75,231.61 123.82,231.27 125.88,230.77 127.95,231.03 130.02,230.99 132.09,232.39 134.16,231.92 136.23,232.31 138.30,231.00" fill="none" stroke="#ea4a3c" stroke-width="0.7" stroke-opacity="1" stroke-linejoin="round"/>
<line x1="25" y1="257.5" x2="25" y2="327.8" stroke="#7b8296" stroke-width="0.75"/>
<line x1="25" y1="327.8" x2="143" y2="327.8" stroke="#7b8296" stroke-width="0.75"/>
<line x1="23.4" y1="262.5" x2="25" y2="262.5" stroke="#7b8296" stroke-width="0.7"/>
<text x="22.4" y="263.7" font-size="3.5" fill="#767676" font-weight="normal" text-anchor="end" >1.25</text>
<line x1="23.4" y1="271.25" x2="25" y2="271.25" stroke="#7b8296" stroke-width="0.7"/>
<text x="22.4" y="272.45" font-size="3.5" fill="#767676" font-weight="normal" text-anchor="end" >1</text>
<line x1="23.4" y1="280" x2="25" y2="280" stroke="#7b8296" stroke-width="0.7"/>
<text x="22.4" y="281.2" font-size="3.5" fill="#767676" font-weight="normal" text-anchor="end" >0.75</text>
<line x1="23.4" y1="289.5" x2="25" y2="289.5" stroke="#7b8296" stroke-width="0.7"/>
<text x="22.4" y="290.7" font-size="3.5" fill="#767676" font-weight="normal" text-anchor="end" >0.5</text>
<line x1="23.4" y1="298.75" x2="25" y2="298.75" stroke="#7b8296" stroke-width="0.7"/>
<text x="22.4" y="299.95" font-size="3.5" fill="#767676" font-weight="normal" text-anchor="end" >0.25</text>
<line x1="23.4" y1="308" x2="25" y2="308" stroke="#7b8296" stroke-width="0.7"/>
<text x="22.4" y="309.2" font-size="3.5" fill="#767676" font-weight="normal" text-anchor="end" >0</text>
<line x1="23.4" y1="317.5" x2="25" y2="317.5" stroke="#7b8296" stroke-width="0.7"/>
<text x="22.4" y="318.7" font-size="3.5" fill="#767676" font-weight="normal" text-anchor="end" >-0.25</text>
<line x1="23.4" y1="327" x2="25" y2="327" stroke="#7b8296" stroke-width="0.7"/>
<text x="22.4" y="328.2" font-size="3.5" fill="#767676" font-weight="normal" text-anchor="end" >-0.5</text>
<line x1="24.0" y1="266.88" x2="25" y2="266.88" stroke="#7b8296" stroke-width="0.5"/>
<line x1="24.0" y1="275.62" x2="25" y2="275.62" stroke="#7b8296" stroke-width="0.5"/>
<line x1="24.0" y1="284.75" x2="25" y2="284.75" stroke="#7b8296" stroke-width="0.5"/>
<line x1="24.0" y1="294.12" x2="25" y2="294.12" stroke="#7b8296" stroke-width="0.5"/>
<line x1="24.0" y1="303.38" x2="25" y2="303.38" stroke="#7b8296" stroke-width="0.5"/>
<line x1="24.0" y1="312.75" x2="25" y2="312.75" stroke="#7b8296" stroke-width="0.5"/>
<line x1="24.0" y1="322.25" x2="25" y2="322.25" stroke="#7b8296" stroke-width="0.5"/>
<line x1="29.5" y1="327.8" x2="29.5" y2="329.3" stroke="#7b8296" stroke-width="0.7"/>
<line x1="50.5" y1="327.8" x2="50.5" y2="329.3" stroke="#7b8296" stroke-width="0.7"/>
<text x="50.5" y="333.0" font-size="3.5" fill="#767676" font-weight="normal" text-anchor="middle" >0</text>
<line x1="71" y1="327.8" x2="71" y2="329.3" stroke="#7b8296" stroke-width="0.7"/>
<line x1="92" y1="327.8" x2="92" y2="329.3" stroke="#7b8296" stroke-width="0.7"/>
<text x="92" y="333.0" font-size="3.5" fill="#767676" font-weight="normal" text-anchor="middle" >100</text>
<line x1="113" y1="327.8" x2="113" y2="329.3" stroke="#7b8296" stroke-width="0.7"/>
<line x1="134" y1="327.8" x2="134" y2="329.3" stroke="#7b8296" stroke-width="0.7"/>
<text x="134" y="333.0" font-size="3.5" fill="#767676" font-weight="normal" text-anchor="middle" >200</text>
<text x="57.9" y="262.5" fill="#111" stroke="#111" stroke-width="0.2"><tspan font-size="9.4" font-weight="bold">2 </tspan><tspan font-size="8.0">Clofazimine</tspan><tspan font-size="7.1"> (rep. 2)</tspan></text>
<text x="60.2" y="317.8" font-size="8.0" fill="#111" font-weight="bold" text-anchor="start" stroke="#111" stroke-width="0.15">S2</text>
<text x="60.8" y="343" font-size="8.35" fill="#222" font-weight="normal" text-anchor="start" stroke="#222" stroke-width="0.12">Time (Sec)</text>
<polyline points="33.40,307.00 33.70,315.00 34.20,308.41 35.48,304.39 36.77,306.88 38.05,307.52 39.33,305.86 40.62,308.94 41.90,307.03 43.18,307.18 44.47,309.00 45.75,304.33 47.03,309.66 48.32,307.48 49.60,306.07 50.00,314.00" fill="none" stroke="#b07ccf" stroke-width="0.6" stroke-opacity="1" stroke-linejoin="round"/>
<polyline points="33.40,307.00 33.70,315.00 34.20,308.49 35.48,305.29 36.77,309.64 38.05,307.16 39.33,305.86 40.62,308.29 41.90,306.35 43.18,304.76 44.47,308.16 45.75,303.99 47.03,308.62 48.32,305.22 49.60,307.54 50.00,314.00" fill="none" stroke="#b8973a" stroke-width="0.6" stroke-opacity="1" stroke-linejoin="round"/>
<polyline points="33.40,307.00 33.70,315.00 34.20,309.60 35.48,307.22 36.77,307.68 38.05,305.58 39.33,303.71 40.62,303.90 41.90,304.60 43.18,307.40 44.47,306.29 45.75,306.78 47.03,309.07 48.32,304.49 49.60,305.06 50.00,314.00" fill="none" stroke="#f27fa8" stroke-width="0.6" stroke-opacity="1" stroke-linejoin="round"/>
<polyline points="33.40,307.00 33.70,315.00 34.20,307.62 35.48,303.83 36.77,303.72 38.05,305.83 39.33,304.34 40.62,305.84 41.90,305.05 43.18,307.20 44.47,307.23 45.75,304.93 47.03,307.44 48.32,306.55 49.60,304.51 50.00,314.00" fill="none" stroke="#45c46a" stroke-width="0.6" stroke-opacity="1" stroke-linejoin="round"/>
<polyline points="33.40,307.00 33.70,315.00 34.20,309.32 35.48,305.16 36.77,304.60 38.05,304.27 39.33,307.53 40.62,308.93 41.90,308.39 43.18,306.11 44.47,305.29 45.75,303.77 47.03,307.57 48.32,307.07 49.60,305.80 50.00,314.00" fill="none" stroke="#3bb36a" stroke-width="0.6" stroke-opacity="1" stroke-linejoin="round"/>
<polyline points="49.40,307.00 49.90,321.80 50.40,309.00" fill="none" stroke="#7fd0a0" stroke-width="0.6" stroke-opacity="1" stroke-linejoin="round"/>
<polyline points="50.90,309.00 51.40,265.92 52.00,260.92 52.52,260.95 53.26,262.71 54.00,263.01 54.63,262.77 55.26,265.11 56.00,264.00 56.93,265.74 57.96,266.02 59.00,265.92 59.96,265.32 60.93,266.43 62.00,264.43 63.26,265.61 64.63,266.64 66.00,265.21 67.33,265.82 68.67,267.37 70.00,268.02 71.27,269.45 72.54,271.19 74.00,271.28 75.99,273.45 78.16,275.44 79.70,276.31" fill="none" stroke="#e9cf3e" stroke-width="0.8" stroke-opacity="1" stroke-linejoin="round"/>
<polyline points="50.90,309.00 51.40,279.06 53.00,274.06 53.48,274.15 54.19,274.48 55.00,273.41 55.93,275.82 56.96,276.18 58.00,275.92 59.00,276.47 60.00,275.55 61.00,274.90 61.96,274.70 62.93,275.18 64.00,275.19 65.22,276.59 66.56,278.49 68.00,279.43 69.53,280.87 71.17,281.77 73.00,281.99 75.36,283.91 77.90,284.95 79.70,286.63" fill="none" stroke="#b07ccf" stroke-width="0.8" stroke-opacity="1" stroke-linejoin="round"/>
<polyline points="50.90,309.00 51.40,285.55 53.00,280.55 53.48,279.77 54.19,280.30 55.00,280.82 55.93,279.11 56.96,280.60 58.00,278.93 58.96,280.02 59.93,280.72 61.00,282.54 62.22,283.48 63.56,283.49 65.00,283.12 66.59,285.08 68.30,284.72 70.00,285.43 71.68,287.85 73.36,288.25 75.00,289.42 76.76,290.53 78.49,292.42 79.70,292.13" fill="none" stroke="#b8973a" stroke-width="0.8" stroke-opacity="1" stroke-linejoin="round"/>
<polyline points="50.90,309.00 51.40,293.25 53.00,288.25 53.48,287.73 54.19,287.82 55.00,286.86 55.89,287.85 56.89,288.08 58.00,288.08 59.26,288.35 60.63,289.73 62.00,289.07 63.33,291.53 64.67,290.53 66.00,290.96 67.30,291.80 68.59,294.28 70.00,293.66 71.60,293.88 73.32,294.30 75.00,294.99 76.76,297.16 78.49,297.78 79.70,298.43" fill="none" stroke="#f27fa8" stroke-width="0.8" stroke-opacity="1" stroke-linejoin="round"/>
<polyline points="50.90,309.00 51.40,301.22 53.00,296.22 53.74,294.64 54.81,295.66 56.00,295.20 57.22,296.52 58.56,297.02 60.00,297.66 61.59,296.25 63.30,298.41 65.00,298.91 66.67,299.37 68.33,297.93 70.00,298.55 71.68,298.79 73.36,299.07 75.00,301.26 76.76,301.55 78.49,301.48 79.70,302.12" fill="none" stroke="#45c46a" stroke-width="0.8" stroke-opacity="1" stroke-linejoin="round"/>
<polyline points="50.90,309.00 51.40,303.29 53.00,298.29 53.74,297.72 54.81,297.59 56.00,297.92 57.22,299.74 58.56,298.95 60.00,299.60 61.59,300.17 63.30,299.61 65.00,300.46 66.67,300.89 68.33,302.24 70.00,301.91 71.68,302.33 73.36,304.31 75.00,303.81 76.76,305.02 78.49,304.89 79.70,303.87" fill="none" stroke="#3bb36a" stroke-width="0.8" stroke-opacity="1" stroke-linejoin="round"/>
<polyline points="50.90,309.00 51.40,305.11 53.00,300.11 53.74,300.32 54.81,301.30 56.00,300.66 57.22,301.83 58.56,301.89 60.00,301.58 61.59,303.28 63.30,301.82 65.00,303.70 66.67,302.65 68.33,302.70 70.00,303.54 71.68,305.13 73.36,305.94 75.00,304.11 76.76,305.49 78.49,305.78 79.70,306.65" fill="none" stroke="#f5a34a" stroke-width="0.8" stroke-opacity="1" stroke-linejoin="round"/>
<polyline points="50.90,309.00 51.40,308.91 53.00,303.91 53.74,304.67 54.81,304.47 56.00,305.73 57.22,304.79 58.56,306.68 60.00,305.52 61.59,305.47 63.30,306.54 65.00,306.20 66.67,305.63 68.33,307.17 70.00,306.28 71.68,308.07 73.36,308.06 75.00,308.43 76.76,308.27 78.49,307.86 79.70,308.08" fill="none" stroke="#ea4a3c" stroke-width="0.8" stroke-opacity="1" stroke-linejoin="round"/>
<path d="M79.40,275.15v2.9M82.20,275.15v2.9M79.40,276.60h2.8" stroke="#2f3f5c" stroke-width="0.9" fill="none"/>
<path d="M79.40,285.45v2.9M82.20,285.45v2.9M79.40,286.90h2.8" stroke="#2f3f5c" stroke-width="0.9" fill="none"/>
<path d="M79.40,291.25v2.9M82.20,291.25v2.9M79.40,292.70h2.8" stroke="#2f3f5c" stroke-width="0.9" fill="none"/>
<path d="M79.40,299.25v2.9M82.20,299.25v2.9M79.40,300.70h2.8" stroke="#2f3f5c" stroke-width="0.9" fill="none"/>
<path d="M79.40,303.15v2.9M82.20,303.15v2.9M79.40,304.60h2.8" stroke="#2f3f5c" stroke-width="0.9" fill="none"/>
<path d="M79.40,305.45v2.9M82.20,305.45v2.9M79.40,306.90h2.8" stroke="#2f3f5c" stroke-width="0.9" fill="none"/>
<path d="M79.40,310.65v2.9M82.20,310.65v2.9M79.40,312.10h2.8" stroke="#2f3f5c" stroke-width="0.9" fill="none"/>
<polyline points="85.10,308.37 85.30,320.00 86.00,318.75 88.39,316.04 90.77,318.47 93.16,315.57 95.55,316.01 97.93,316.06 100.32,317.97 102.70,316.55 105.09,316.02 107.48,317.50 109.86,315.28 112.25,315.87 114.64,315.96 117.02,316.54 119.41,316.40 121.80,315.92 124.18,314.83 126.57,314.63 128.95,313.94 131.34,316.01 133.73,315.29 136.11,315.41 138.50,313.44" fill="none" stroke="#e9cf3e" stroke-width="0.7" stroke-opacity="1" stroke-linejoin="round"/>
<polyline points="85.10,308.63 85.30,320.00 86.00,316.87 88.39,316.12 90.77,314.53 93.16,315.47 95.55,316.69 97.93,314.48 100.32,314.19 102.70,314.41 105.09,315.56 107.48,315.87 109.86,313.53 112.25,313.40 114.64,313.56 117.02,313.67 119.41,314.16 121.80,312.87 124.18,313.27 126.57,312.69 128.95,315.07 131.34,314.14 133.73,312.00 136.11,314.62 138.50,311.73" fill="none" stroke="#b07ccf" stroke-width="0.7" stroke-opacity="1" stroke-linejoin="round"/>
<polyline points="85.10,308.31 85.30,320.00 86.00,318.05 88.39,317.31 90.77,316.97 93.16,315.88 95.55,314.98 97.93,316.26 100.32,314.42 102.70,314.61 105.09,315.05 107.48,313.78 109.86,314.81 112.25,315.93 114.64,315.48 117.02,314.73 119.41,315.01 121.80,314.34 124.18,313.17 126.57,314.51 128.95,313.74 131.34,314.68 133.73,315.08 136.11,313.41 138.50,313.74" fill="none" stroke="#b8973a" stroke-width="0.7" stroke-opacity="1" stroke-linejoin="round"/>
<polyline points="85.10,310.49 85.30,320.00 86.00,313.95 88.39,313.20 90.77,314.64 93.16,315.01 95.55,314.53 97.93,314.16 100.32,314.51 102.70,313.82 105.09,313.56 107.48,312.83 109.86,312.24 112.25,313.11 114.64,311.28 117.02,312.17 119.41,313.19 121.80,312.84 124.18,312.43 126.57,311.08 128.95,311.50 131.34,311.47 133.73,311.86 136.11,311.05 138.50,311.76" fill="none" stroke="#f27fa8" stroke-width="0.7" stroke-opacity="1" stroke-linejoin="round"/>
<polyline points="85.10,311.58 85.30,320.00 86.00,310.49 88.39,311.86 90.77,312.12 93.16,310.73 95.55,310.92 97.93,312.34 100.32,309.20 102.70,310.68 105.09,309.32 107.48,311.17 109.86,311.55 112.25,310.06 114.64,308.59 117.02,309.97 119.41,309.72 121.80,310.15 124.18,309.36 126.57,309.63 128.95,310.10 131.34,308.98 133.73,308.49 136.11,310.07 138.50,307.57" fill="none" stroke="#45c46a" stroke-width="0.7" stroke-opacity="1" stroke-linejoin="round"/>
<polyline points="85.10,310.11 85.30,320.00 86.00,312.16 88.39,313.20 90.77,311.02 93.16,313.64 95.55,311.49 97.93,310.40 100.32,310.96 102.70,311.22 105.09,309.85 107.48,311.01 109.86,310.88 112.25,311.63 114.64,310.39 117.02,309.98 119.41,309.71 121.80,311.23 124.18,311.73 126.57,310.27 128.95,309.15 131.34,310.87 133.73,309.43 136.11,308.71 138.50,308.31" fill="none" stroke="#3bb36a" stroke-width="0.7" stroke-opacity="1" stroke-linejoin="round"/>
<polyline points="85.10,310.66 85.30,320.00 86.00,316.49 88.39,315.79 90.77,315.13 93.16,315.29 95.55,314.08 97.93,316.30 100.32,314.21 102.70,314.99 105.09,315.43 107.48,315.28 109.86,314.03 112.25,313.34 114.64,314.02 117.02,312.53 119.41,314.66 121.80,312.99 124.18,314.44 126.57,312.44 128.95,312.65 131.34,312.12 133.73,312.54 136.11,311.63 138.50,310.91" fill="none" stroke="#f5a34a" stroke-width="0.7" stroke-opacity="1" stroke-linejoin="round"/>
<polyline points="85.10,310.33 85.30,320.00 86.00,314.30 88.39,314.05 90.77,314.09 93.16,314.53 95.55,314.23 97.93,314.76 100.32,314.69 102.70,313.61 105.09,315.28 107.48,314.91 109.86,312.22 112.25,314.55 114.64,314.66 117.02,314.14 119.41,311.94 121.80,314.01 124.18,313.24 126.57,311.13 128.95,310.98 131.34,313.85 133.73,312.77 136.11,311.34 138.50,310.72" fill="none" stroke="#ea4a3c" stroke-width="0.7" stroke-opacity="1" stroke-linejoin="round"/>
<line x1="291.3" y1="7.5" x2="291.3" y2="80" stroke="#7b8296" stroke-width="0.75"/>
<line x1="291.3" y1="80" x2="411" y2="80" stroke="#7b8296" stroke-width="0.75"/>
<line x1="289.7" y1="8" x2="291.3" y2="8" stroke="#7b8296" stroke-width="0.7"/>
<text x="288.7" y="9.2" font-size="3.5" fill="#767676" font-weight="normal" text-anchor="end" >8</text>
<line x1="289.7" y1="18" x2="291.3" y2="18" stroke="#7b8296" stroke-width="0.7"/>
<text x="288.7" y="19.2" font-size="3.5" fill="#767676" font-weight="normal" text-anchor="end" >6</text>
<line x1="289.7" y1="28" x2="291.3" y2="28" stroke="#7b8296" stroke-width="0.7"/>
<text x="288.7" y="29.2" font-size="3.5" fill="#767676" font-weight="normal" text-anchor="end" >4</text>
<line x1="289.7" y1="38" x2="291.3" y2="38" stroke="#7b8296" stroke-width="0.7"/>
<text x="288.7" y="39.2" font-size="3.5" fill="#767676" font-weight="normal" text-anchor="end" >2</text>
<line x1="289.7" y1="48.75" x2="291.3" y2="48.75" stroke="#7b8296" stroke-width="0.7"/>
<text x="288.7" y="49.95" font-size="3.5" fill="#767676" font-weight="normal" text-anchor="end" >0</text>
<line x1="289.7" y1="58.75" x2="291.3" y2="58.75" stroke="#7b8296" stroke-width="0.7"/>
<text x="288.7" y="59.95" font-size="3.5" fill="#767676" font-weight="normal" text-anchor="end" >-2</text>
<line x1="289.7" y1="68.75" x2="291.3" y2="68.75" stroke="#7b8296" stroke-width="0.7"/>
<text x="288.7" y="69.95" font-size="3.5" fill="#767676" font-weight="normal" text-anchor="end" >-4</text>
<line x1="289.7" y1="78.75" x2="291.3" y2="78.75" stroke="#7b8296" stroke-width="0.7"/>
<text x="288.7" y="79.95" font-size="3.5" fill="#767676" font-weight="normal" text-anchor="end" >-6</text>
<line x1="290.3" y1="13.0" x2="291.3" y2="13.0" stroke="#7b8296" stroke-width="0.5"/>
<line x1="290.3" y1="23.0" x2="291.3" y2="23.0" stroke="#7b8296" stroke-width="0.5"/>
<line x1="290.3" y1="33.0" x2="291.3" y2="33.0" stroke="#7b8296" stroke-width="0.5"/>
<line x1="290.3" y1="43.38" x2="291.3" y2="43.38" stroke="#7b8296" stroke-width="0.5"/>
<line x1="290.3" y1="53.75" x2="291.3" y2="53.75" stroke="#7b8296" stroke-width="0.5"/>
<line x1="290.3" y1="63.75" x2="291.3" y2="63.75" stroke="#7b8296" stroke-width="0.5"/>
<line x1="290.3" y1="73.75" x2="291.3" y2="73.75" stroke="#7b8296" stroke-width="0.5"/>
<line x1="296.5" y1="80" x2="296.5" y2="81.5" stroke="#7b8296" stroke-width="0.7"/>
<line x1="317.75" y1="80" x2="317.75" y2="81.5" stroke="#7b8296" stroke-width="0.7"/>
<text x="317.75" y="85.2" font-size="3.5" fill="#767676" font-weight="normal" text-anchor="middle" >0</text>
<line x1="339" y1="80" x2="339" y2="81.5" stroke="#7b8296" stroke-width="0.7"/>
<line x1="360.25" y1="80" x2="360.25" y2="81.5" stroke="#7b8296" stroke-width="0.7"/>
<text x="360.25" y="85.2" font-size="3.5" fill="#767676" font-weight="normal" text-anchor="middle" >100</text>
<line x1="381.5" y1="80" x2="381.5" y2="81.5" stroke="#7b8296" stroke-width="0.7"/>
<line x1="402.75" y1="80" x2="402.75" y2="81.5" stroke="#7b8296" stroke-width="0.7"/>
<text x="402.75" y="85.2" font-size="3.5" fill="#767676" font-weight="normal" text-anchor="middle" >200</text>
<text x="294.5" y="15" font-size="11.5" fill="#111" font-weight="normal" text-anchor="start" stroke="#111" stroke-width="0.15">(C)</text>
<text x="322.2" y="15" fill="#111" stroke="#111" stroke-width="0.2"><tspan font-size="9.4" font-weight="bold">3 </tspan><tspan font-size="8.0">Toremifine</tspan><tspan font-size="7.1"> (rep. 1)</tspan></text>
<text x="328" y="53.8" font-size="8.0" fill="#111" font-weight="bold" text-anchor="start" stroke="#111" stroke-width="0.15">S2</text>
<polyline points="300.30,49.00 300.80,30.70 301.40,53.70 302.50,49.50 303.00,48.89 304.34,48.94 305.68,49.27 307.02,49.01 308.36,48.89 309.70,49.34 311.04,49.28 312.38,48.90 313.72,49.33 315.06,49.17 316.40,49.27" fill="none" stroke="#ea4a3c" stroke-width="0.9" stroke-opacity="1" stroke-linejoin="round"/>
<polyline points="303.00,49.40 304.34,49.54 305.68,49.47 307.02,49.50 308.36,49.12 309.70,49.42 311.04,49.32 312.38,49.45 313.72,49.26 315.06,49.53 316.40,49.33" fill="none" stroke="#f5a34a" stroke-width="0.7" stroke-opacity="1" stroke-linejoin="round"/>
<polyline points="317.60,49.00 318.10,12.10 318.80,20.80 320.02,23.56 321.24,24.73 322.46,25.33 323.68,25.71 324.90,26.02 326.12,26.30 327.35,26.57 328.57,26.84 329.79,27.11 331.01,27.37 332.23,27.64 333.45,27.91 334.67,28.17 335.89,28.44 337.11,28.71 338.33,28.97 339.55,29.24 340.78,29.50 342.00,29.77 343.22,30.04 344.44,30.30 345.66,30.57 346.88,30.83 348.10,31.10" fill="none" stroke="#ea4a3c" stroke-width="0.8" stroke-opacity="1" stroke-linejoin="round"/>
<polyline points="317.60,49.00 318.10,24.10 318.80,27.10 320.02,29.44 321.24,30.42 322.46,30.92 323.68,31.25 324.90,31.51 326.12,31.75 327.35,31.98 328.57,32.20 329.79,32.43 331.01,32.65 332.23,32.88 333.45,33.10 334.67,33.33 335.89,33.55 337.11,33.78 338.33,34.00 339.55,34.23 340.78,34.45 342.00,34.68 343.22,34.90 344.44,35.13 345.66,35.35 346.88,35.58 348.10,35.80" fill="none" stroke="#e9cf3e" stroke-width="0.8" stroke-opacity="1" stroke-linejoin="round"/>
<polyline points="317.60,49.00 318.10,25.50 318.80,28.50 320.02,30.78 321.24,31.75 322.46,32.24 323.68,32.55 324.90,32.81 326.12,33.04 327.35,33.26 328.57,33.49 329.79,33.71 331.01,33.93 332.23,34.15 333.45,34.36 334.67,34.58 335.89,34.80 337.11,35.02 338.33,35.24 339.55,35.46 340.78,35.68 342.00,35.90 343.22,36.12 344.44,36.34 345.66,36.56 346.88,36.78 348.10,37.00" fill="none" stroke="#b07ccf" stroke-width="0.8" stroke-opacity="1" stroke-linejoin="round"/>
<polyline points="317.60,49.00 318.10,27.00 318.80,30.00 320.02,32.20 321.24,33.13 322.46,33.60 323.68,33.91 324.90,34.16 326.12,34.38 327.35,34.60 328.57,34.81 329.79,35.02 331.01,35.23 332.23,35.45 333.45,35.66 334.67,35.87 335.89,36.08 337.11,36.29 338.33,36.51 339.55,36.72 340.78,36.93 342.00,37.14 343.22,37.35 344.44,37.56 345.66,37.78 346.88,37.99 348.10,38.20" fill="none" stroke="#b8973a" stroke-width="0.8" stroke-opacity="1" stroke-linejoin="round"/>
<polyline points="317.60,49.00 318.10,28.50 318.80,31.50 320.02,33.65 321.24,34.56 322.46,35.02 323.68,35.31 324.90,35.55 326.12,35.77 327.35,35.98 328.57,36.19 329.79,36.40 331.01,36.61 332.23,36.81 333.45,37.02 334.67,37.23 335.89,37.43 337.11,37.64 338.33,37.85 339.55,38.05 340.78,38.26 342.00,38.47 343.22,38.67 344.44,38.88 345.66,39.09 346.88,39.29 348.10,39.50" fill="none" stroke="#f27fa8" stroke-width="0.8" stroke-opacity="1" stroke-linejoin="round"/>
<polyline points="317.60,49.00 318.10,30.00 318.80,33.00 320.02,35.01 321.24,35.86 322.46,36.30 323.68,36.58 324.90,36.80 326.12,37.01 327.35,37.20 328.57,37.40 329.79,37.59 331.01,37.79 332.23,37.98 333.45,38.17 334.67,38.37 335.89,38.56 337.11,38.76 338.33,38.95 339.55,39.14 340.78,39.34 342.00,39.53 343.22,39.72 344.44,39.92 345.66,40.11 346.88,40.31 348.10,40.50" fill="none" stroke="#9aa8b8" stroke-width="0.8" stroke-opacity="1" stroke-linejoin="round"/>
<polyline points="317.60,49.00 318.10,34.40 318.80,37.40 320.02,38.88 321.24,39.50 322.46,39.82 323.68,40.02 324.90,40.19 326.12,40.34 327.35,40.48 328.57,40.63 329.79,40.77 331.01,40.91 332.23,41.05 333.45,41.19 334.67,41.34 335.89,41.48 337.11,41.62 338.33,41.76 339.55,41.91 340.78,42.05 342.00,42.19 343.22,42.33 344.44,42.47 345.66,42.62 346.88,42.76 348.10,42.90" fill="none" stroke="#45c46a" stroke-width="0.8" stroke-opacity="1" stroke-linejoin="round"/>
<polyline points="317.60,49.00 318.10,39.10 318.80,42.10 320.02,43.09 321.24,43.51 322.46,43.73 323.68,43.86 324.90,43.98 326.12,44.08 327.35,44.17 328.57,44.27 329.79,44.37 331.01,44.46 332.23,44.56 333.45,44.65 334.67,44.75 335.89,44.84 337.11,44.94 338.33,45.04 339.55,45.13 340.78,45.23 342.00,45.32 343.22,45.42 344.44,45.51 345.66,45.61 346.88,45.70 348.10,45.80" fill="none" stroke="#f5a34a" stroke-width="0.8" stroke-opacity="1" stroke-linejoin="round"/>
<rect x="348.1" y="31.9" width="4.0" height="15.8" fill="#4f5d78"/>
<rect x="349.65" y="32.98" width="0.9" height="1.8" fill="#dfe6ee"/>
<rect x="349.65" y="36.93" width="0.9" height="1.8" fill="#dfe6ee"/>
<rect x="349.65" y="40.88" width="0.9" height="1.8" fill="#dfe6ee"/>
<rect x="349.65" y="44.83" width="0.9" height="1.8" fill="#dfe6ee"/>
<polyline points="352.80,31.00 352.80,50.00" fill="none" stroke="#e9cf3e" stroke-width="0.8" stroke-opacity="1" stroke-linejoin="round"/>
<polyline points="352.80,49.00 352.90,73.70 353.60,51.00 355.00,50.30" fill="none" stroke="#ea4a3c" stroke-width="0.9" stroke-opacity="1" stroke-linejoin="round"/>
<polyline points="353.00,51.50 353.40,62.00 354.00,50.50" fill="none" stroke="#f5a34a" stroke-width="0.8" stroke-opacity="1" stroke-linejoin="round"/>
<polyline points="354.00,50.90 411.00,50.20" fill="none" stroke="#e9cf3e" stroke-width="0.8" stroke-opacity="1" stroke-linejoin="round"/>
<polyline points="354.00,49.60 411.00,49.40" fill="none" stroke="#f5a34a" stroke-width="0.8" stroke-opacity="1" stroke-linejoin="round"/>
<polyline points="354.00,50.30 411.00,49.80" fill="none" stroke="#ea4a3c" stroke-width="0.8" stroke-opacity="1" stroke-linejoin="round"/>
<line x1="292.3" y1="88.75" x2="292.3" y2="160.7" stroke="#7b8296" stroke-width="0.75"/>
<line x1="292.3" y1="160.7" x2="411" y2="160.7" stroke="#7b8296" stroke-width="0.75"/>
<line x1="290.7" y1="91.25" x2="292.3" y2="91.25" stroke="#7b8296" stroke-width="0.7"/>
<text x="289.7" y="92.45" font-size="3.5" fill="#767676" font-weight="normal" text-anchor="end" >10</text>
<line x1="290.7" y1="101.25" x2="292.3" y2="101.25" stroke="#7b8296" stroke-width="0.7"/>
<text x="289.7" y="102.45" font-size="3.5" fill="#767676" font-weight="normal" text-anchor="end" >7.5</text>
<line x1="290.7" y1="110.5" x2="292.3" y2="110.5" stroke="#7b8296" stroke-width="0.7"/>
<text x="289.7" y="111.7" font-size="3.5" fill="#767676" font-weight="normal" text-anchor="end" >5</text>
<line x1="290.7" y1="120.5" x2="292.3" y2="120.5" stroke="#7b8296" stroke-width="0.7"/>
<text x="289.7" y="121.7" font-size="3.5" fill="#767676" font-weight="normal" text-anchor="end" >2.5</text>
<line x1="290.7" y1="130" x2="292.3" y2="130" stroke="#7b8296" stroke-width="0.7"/>
<text x="289.7" y="131.2" font-size="3.5" fill="#767676" font-weight="normal" text-anchor="end" >0</text>
<line x1="290.7" y1="139.5" x2="292.3" y2="139.5" stroke="#7b8296" stroke-width="0.7"/>
<text x="289.7" y="140.7" font-size="3.5" fill="#767676" font-weight="normal" text-anchor="end" >-2.5</text>
<line x1="290.7" y1="149.25" x2="292.3" y2="149.25" stroke="#7b8296" stroke-width="0.7"/>
<text x="289.7" y="150.45" font-size="3.5" fill="#767676" font-weight="normal" text-anchor="end" >-5</text>
<line x1="290.7" y1="159.25" x2="292.3" y2="159.25" stroke="#7b8296" stroke-width="0.7"/>
<text x="289.7" y="160.45" font-size="3.5" fill="#767676" font-weight="normal" text-anchor="end" >-7.5</text>
<line x1="291.3" y1="96.25" x2="292.3" y2="96.25" stroke="#7b8296" stroke-width="0.5"/>
<line x1="291.3" y1="105.88" x2="292.3" y2="105.88" stroke="#7b8296" stroke-width="0.5"/>
<line x1="291.3" y1="115.5" x2="292.3" y2="115.5" stroke="#7b8296" stroke-width="0.5"/>
<line x1="291.3" y1="125.25" x2="292.3" y2="125.25" stroke="#7b8296" stroke-width="0.5"/>
<line x1="291.3" y1="134.75" x2="292.3" y2="134.75" stroke="#7b8296" stroke-width="0.5"/>
<line x1="291.3" y1="144.38" x2="292.3" y2="144.38" stroke="#7b8296" stroke-width="0.5"/>
<line x1="291.3" y1="154.25" x2="292.3" y2="154.25" stroke="#7b8296" stroke-width="0.5"/>
<line x1="296.5" y1="160.7" x2="296.5" y2="162.2" stroke="#7b8296" stroke-width="0.7"/>
<line x1="317.25" y1="160.7" x2="317.25" y2="162.2" stroke="#7b8296" stroke-width="0.7"/>
<text x="317.25" y="165.9" font-size="3.5" fill="#767676" font-weight="normal" text-anchor="middle" >0</text>
<line x1="338.75" y1="160.7" x2="338.75" y2="162.2" stroke="#7b8296" stroke-width="0.7"/>
<line x1="360.25" y1="160.7" x2="360.25" y2="162.2" stroke="#7b8296" stroke-width="0.7"/>
<text x="360.25" y="165.9" font-size="3.5" fill="#767676" font-weight="normal" text-anchor="middle" >100</text>
<line x1="381.25" y1="160.7" x2="381.25" y2="162.2" stroke="#7b8296" stroke-width="0.7"/>
<line x1="402.25" y1="160.7" x2="402.25" y2="162.2" stroke="#7b8296" stroke-width="0.7"/>
<text x="402.25" y="165.9" font-size="3.5" fill="#767676" font-weight="normal" text-anchor="middle" >200</text>
<text x="322.2" y="101.6" fill="#111" stroke="#111" stroke-width="0.2"><tspan font-size="9.4" font-weight="bold">3 </tspan><tspan font-size="8.0">Toremifine</tspan><tspan font-size="7.1"> (rep. 2)</tspan></text>
<text x="328" y="137" font-size="8.0" fill="#111" font-weight="bold" text-anchor="start" stroke="#111" stroke-width="0.15">S2</text>
<polyline points="300.50,130.00 301.00,120.50 301.50,132.00 302.50,130.00 303.00,129.70 304.54,129.70 306.07,129.70 307.61,129.70 309.15,129.70 310.69,129.70 312.23,129.70 313.76,129.70 315.30,129.70" fill="none" stroke="#b8973a" stroke-width="0.9" stroke-opacity="1" stroke-linejoin="round"/>
<polyline points="317.30,130.00 317.80,112.70 318.50,115.70 322.00,117.00 322.00,117.00 324.09,117.19 326.18,117.36 328.27,117.50 330.37,117.63 332.46,117.74 334.55,117.84 336.64,117.92 338.73,117.99 340.83,118.06 342.92,118.11 345.01,118.16 347.10,118.20" fill="none" stroke="#e9cf3e" stroke-width="0.8" stroke-opacity="1" stroke-linejoin="round"/>
<polyline points="317.30,130.00 317.80,95.70 318.50,119.00 322.00,120.30 322.00,120.30 324.09,120.33 326.18,120.36 328.27,120.38 330.37,120.41 332.46,120.42 334.55,120.44 336.64,120.45 338.73,120.47 340.83,120.48 342.92,120.49 345.01,120.49 347.10,120.50" fill="none" stroke="#b07ccf" stroke-width="0.8" stroke-opacity="1" stroke-linejoin="round"/>
<polyline points="317.30,130.00 317.80,116.60 318.50,119.60 322.00,120.90 322.00,120.90 324.09,121.00 326.18,121.08 328.27,121.15 330.37,121.22 332.46,121.27 334.55,121.32 336.64,121.36 338.73,121.40 340.83,121.43 342.92,121.46 345.01,121.48 347.10,121.50" fill="none" stroke="#f27fa8" stroke-width="0.8" stroke-opacity="1" stroke-linejoin="round"/>
<polyline points="317.30,130.00 317.80,117.50 318.50,120.50 322.00,121.80 322.00,121.80 324.09,121.88 326.18,121.95 328.27,122.01 330.37,122.06 332.46,122.11 334.55,122.15 336.64,122.18 338.73,122.21 340.83,122.24 342.92,122.26 345.01,122.28 347.10,122.30" fill="none" stroke="#b8973a" stroke-width="0.8" stroke-opacity="1" stroke-linejoin="round"/>
<polyline points="317.30,130.00 317.80,118.50 318.50,121.50 322.00,122.80 322.00,122.80 324.09,122.86 326.18,122.92 328.27,122.97 330.37,123.01 332.46,123.05 334.55,123.08 336.64,123.11 338.73,123.13 340.83,123.15 342.92,123.17 345.01,123.19 347.10,123.20" fill="none" stroke="#f5a34a" stroke-width="0.8" stroke-opacity="1" stroke-linejoin="round"/>
<polyline points="317.30,130.00 317.80,119.50 318.50,122.50 322.00,123.80 322.00,123.80 324.09,123.86 326.18,123.92 328.27,123.97 330.37,124.01 332.46,124.05 334.55,124.08 336.64,124.11 338.73,124.13 340.83,124.15 342.92,124.17 345.01,124.19 347.10,124.20" fill="none" stroke="#ea4a3c" stroke-width="0.8" stroke-opacity="1" stroke-linejoin="round"/>
<polyline points="317.30,130.00 317.80,120.50 318.50,123.50 322.00,124.80 322.00,124.80 324.09,124.83 326.18,124.86 328.27,124.88 330.37,124.91 332.46,124.92 334.55,124.94 336.64,124.95 338.73,124.97 340.83,124.98 342.92,124.99 345.01,124.99 347.10,125.00" fill="none" stroke="#45c46a" stroke-width="0.8" stroke-opacity="1" stroke-linejoin="round"/>
<rect x="347.1" y="117.1" width="3.8" height="10.3" fill="#34435f"/>
<rect x="348.55" y="117.92" width="0.9" height="1.8" fill="#dfe6ee"/>
<rect x="348.55" y="121.35" width="0.9" height="1.8" fill="#dfe6ee"/>
<rect x="348.55" y="124.78" width="0.9" height="1.8" fill="#dfe6ee"/>
<polyline points="351.70,129.00 351.80,155.00 352.40,140.00" fill="none" stroke="#c89ad8" stroke-width="0.9" stroke-opacity="1" stroke-linejoin="round"/>
<polyline points="351.70,158.00 351.70,129.00 404.00,128.80" fill="none" stroke="#b8973a" stroke-width="0.8" stroke-opacity="1" stroke-linejoin="round"/>
<polyline points="352.20,128.90 404.00,128.60" fill="none" stroke="#f5a34a" stroke-width="0.8" stroke-opacity="1" stroke-linejoin="round"/>
<polyline points="352.20,128.40 404.00,128.20" fill="none" stroke="#45c46a" stroke-width="0.9" stroke-opacity="1" stroke-linejoin="round"/>
<line x1="292.3" y1="175" x2="292.3" y2="242.4" stroke="#7b8296" stroke-width="0.75"/>
<line x1="292.3" y1="242.4" x2="411" y2="242.4" stroke="#7b8296" stroke-width="0.75"/>
<line x1="290.7" y1="178" x2="292.3" y2="178" stroke="#7b8296" stroke-width="0.7"/>
<text x="289.7" y="179.2" font-size="3.5" fill="#767676" font-weight="normal" text-anchor="end" >15</text>
<line x1="290.7" y1="190" x2="292.3" y2="190" stroke="#7b8296" stroke-width="0.7"/>
<text x="289.7" y="191.2" font-size="3.5" fill="#767676" font-weight="normal" text-anchor="end" >10</text>
<line x1="290.7" y1="202.5" x2="292.3" y2="202.5" stroke="#7b8296" stroke-width="0.7"/>
<text x="289.7" y="203.7" font-size="3.5" fill="#767676" font-weight="normal" text-anchor="end" >5</text>
<line x1="290.7" y1="215" x2="292.3" y2="215" stroke="#7b8296" stroke-width="0.7"/>
<text x="289.7" y="216.2" font-size="3.5" fill="#767676" font-weight="normal" text-anchor="end" >0</text>
<line x1="290.7" y1="227.5" x2="292.3" y2="227.5" stroke="#7b8296" stroke-width="0.7"/>
<text x="289.7" y="228.7" font-size="3.5" fill="#767676" font-weight="normal" text-anchor="end" >-5</text>
<line x1="290.7" y1="240.75" x2="292.3" y2="240.75" stroke="#7b8296" stroke-width="0.7"/>
<text x="289.7" y="241.95" font-size="3.5" fill="#767676" font-weight="normal" text-anchor="end" >-10</text>
<line x1="291.3" y1="184.0" x2="292.3" y2="184.0" stroke="#7b8296" stroke-width="0.5"/>
<line x1="291.3" y1="196.25" x2="292.3" y2="196.25" stroke="#7b8296" stroke-width="0.5"/>
<line x1="291.3" y1="208.75" x2="292.3" y2="208.75" stroke="#7b8296" stroke-width="0.5"/>
<line x1="291.3" y1="221.25" x2="292.3" y2="221.25" stroke="#7b8296" stroke-width="0.5"/>
<line x1="291.3" y1="234.12" x2="292.3" y2="234.12" stroke="#7b8296" stroke-width="0.5"/>
<line x1="296.5" y1="242.4" x2="296.5" y2="243.9" stroke="#7b8296" stroke-width="0.7"/>
<line x1="317" y1="242.4" x2="317" y2="243.9" stroke="#7b8296" stroke-width="0.7"/>
<text x="317" y="247.6" font-size="3.5" fill="#767676" font-weight="normal" text-anchor="middle" >0</text>
<line x1="337.75" y1="242.4" x2="337.75" y2="243.9" stroke="#7b8296" stroke-width="0.7"/>
<line x1="358.5" y1="242.4" x2="358.5" y2="243.9" stroke="#7b8296" stroke-width="0.7"/>
<text x="358.5" y="247.6" font-size="3.5" fill="#767676" font-weight="normal" text-anchor="middle" >100</text>
<line x1="378.75" y1="242.4" x2="378.75" y2="243.9" stroke="#7b8296" stroke-width="0.7"/>
<line x1="399" y1="242.4" x2="399" y2="243.9" stroke="#7b8296" stroke-width="0.7"/>
<text x="399" y="247.6" font-size="3.5" fill="#767676" font-weight="normal" text-anchor="middle" >200</text>
<text x="295.8" y="182.8" font-size="11.5" fill="#111" font-weight="normal" text-anchor="start" stroke="#111" stroke-width="0.15">(D)</text>
<text x="320" y="183.6" fill="#111" stroke="#111" stroke-width="0.2"><tspan font-size="9.4" font-weight="bold">4 </tspan><tspan font-size="8.0">Ecliptasaponin A</tspan></text>
<text x="357.8" y="193.7" font-size="7.3" fill="#111" font-weight="normal" text-anchor="start" stroke="#111" stroke-width="0.15">(rep. 1)</text>
<text x="328" y="224.0" font-size="8.0" fill="#111" font-weight="bold" text-anchor="start" stroke="#111" stroke-width="0.15">S2</text>
<polyline points="301.40,215.20 301.60,208.60 302.00,215.60 303.00,215.20 303.00,214.93 304.57,215.21 306.15,215.37 307.73,215.10 309.30,215.37 310.88,215.32 312.45,214.79 314.03,215.08 315.60,214.94" fill="none" stroke="#7a78c0" stroke-width="0.8" stroke-opacity="1" stroke-linejoin="round"/>
<polyline points="317.20,214.80 317.50,179.70 318.50,190.90 318.50,190.90 320.19,191.99 321.88,192.64 323.56,193.15 325.25,193.61 326.94,194.06 328.62,194.50 330.31,194.94 332.00,195.38 333.69,195.82 335.38,196.26 337.06,196.70 338.75,197.14 340.44,197.58 342.12,198.02 343.81,198.46 345.50,198.90" fill="none" stroke="#4a7fd6" stroke-width="0.8" stroke-opacity="1" stroke-linejoin="round"/>
<polyline points="317.20,214.80 317.50,192.20 318.50,195.20 318.50,195.20 320.19,196.02 321.88,196.50 323.56,196.89 325.25,197.23 326.94,197.57 328.62,197.90 330.31,198.23 332.00,198.56 333.69,198.89 335.38,199.22 337.06,199.55 338.75,199.88 340.44,200.21 342.12,200.54 343.81,200.87 345.50,201.20" fill="none" stroke="#ea4a3c" stroke-width="0.8" stroke-opacity="1" stroke-linejoin="round"/>
<polyline points="317.20,214.80 317.50,194.40 318.50,197.40 318.50,197.40 320.19,198.16 321.88,198.62 323.56,198.97 325.25,199.30 326.94,199.61 328.62,199.92 330.31,200.23 332.00,200.54 333.69,200.84 335.38,201.15 337.06,201.46 338.75,201.77 340.44,202.08 342.12,202.38 343.81,202.69 345.50,203.00" fill="none" stroke="#e9cf3e" stroke-width="0.8" stroke-opacity="1" stroke-linejoin="round"/>
<polyline points="317.20,214.80 317.50,197.20 318.50,200.20 318.50,200.20 320.19,200.78 321.88,201.13 323.56,201.41 325.25,201.66 326.94,201.90 328.62,202.13 330.31,202.37 332.00,202.61 333.69,202.84 335.38,203.08 337.06,203.32 338.75,203.55 340.44,203.79 342.12,204.03 343.81,204.26 345.50,204.50" fill="none" stroke="#b8973a" stroke-width="0.8" stroke-opacity="1" stroke-linejoin="round"/>
<polyline points="317.20,214.80 317.50,199.00 318.50,202.00 318.50,202.00 320.19,202.54 321.88,202.87 323.56,203.12 325.25,203.35 326.94,203.58 328.62,203.80 330.31,204.02 332.00,204.24 333.69,204.46 335.38,204.68 337.06,204.90 338.75,205.12 340.44,205.34 342.12,205.56 343.81,205.78 345.50,206.00" fill="none" stroke="#b07ccf" stroke-width="0.8" stroke-opacity="1" stroke-linejoin="round"/>
<polyline points="317.20,214.80 317.50,200.50 318.50,203.50 318.50,203.50 320.19,203.98 321.88,204.26 323.56,204.48 325.25,204.69 326.94,204.88 328.62,205.07 330.31,205.27 332.00,205.46 333.69,205.65 335.38,205.84 337.06,206.04 338.75,206.23 340.44,206.42 342.12,206.61 343.81,206.81 345.50,207.00" fill="none" stroke="#f27fa8" stroke-width="0.8" stroke-opacity="1" stroke-linejoin="round"/>
<polyline points="317.20,214.80 317.50,202.00 318.50,205.00 318.50,205.00 320.19,205.41 321.88,205.65 323.56,205.84 325.25,206.02 326.94,206.18 328.62,206.35 330.31,206.51 332.00,206.68 333.69,206.84 335.38,207.01 337.06,207.17 338.75,207.34 340.44,207.50 342.12,207.67 343.81,207.83 345.50,208.00" fill="none" stroke="#f5a34a" stroke-width="0.8" stroke-opacity="1" stroke-linejoin="round"/>
<polyline points="317.20,214.80 317.50,203.50 318.50,206.50 318.50,206.50 320.19,206.84 321.88,207.04 323.56,207.20 325.25,207.35 326.94,207.49 328.62,207.62 330.31,207.76 332.00,207.90 333.69,208.04 335.38,208.17 337.06,208.31 338.75,208.45 340.44,208.59 342.12,208.72 343.81,208.86 345.50,209.00" fill="none" stroke="#d08060" stroke-width="0.8" stroke-opacity="1" stroke-linejoin="round"/>
<polyline points="317.20,214.80 317.50,205.00 318.50,208.00 318.50,208.00 320.19,208.27 321.88,208.43 323.56,208.56 325.25,208.68 326.94,208.79 328.62,208.90 330.31,209.01 332.00,209.12 333.69,209.23 335.38,209.34 337.06,209.45 338.75,209.56 340.44,209.67 342.12,209.78 343.81,209.89 345.50,210.00" fill="none" stroke="#50c0b0" stroke-width="0.8" stroke-opacity="1" stroke-linejoin="round"/>
<polyline points="317.20,214.80 317.50,206.60 318.50,209.60 318.50,209.60 320.19,209.79 321.88,209.90 323.56,209.99 325.25,210.07 326.94,210.15 328.62,210.23 330.31,210.31 332.00,210.38 333.69,210.46 335.38,210.54 337.06,210.61 338.75,210.69 340.44,210.77 342.12,210.85 343.81,210.92 345.50,211.00" fill="none" stroke="#45c46a" stroke-width="0.8" stroke-opacity="1" stroke-linejoin="round"/>
<rect x="345.5" y="197.4" width="3.8" height="14.0" fill="#34435f"/>
<rect x="346.95" y="197.90" width="0.9" height="1.8" fill="#dfe6ee"/>
<rect x="346.95" y="200.70" width="0.9" height="1.8" fill="#dfe6ee"/>
<rect x="346.95" y="203.50" width="0.9" height="1.8" fill="#dfe6ee"/>
<rect x="346.95" y="206.30" width="0.9" height="1.8" fill="#dfe6ee"/>
<rect x="346.95" y="209.10" width="0.9" height="1.8" fill="#dfe6ee"/>
<polyline points="350.60,215.20 350.60,236.50 351.30,225.30 353.00,222.80 355.00,223.10 359.00,223.18 363.00,223.25 367.00,223.33 371.00,223.40 375.00,223.48 379.00,223.55 383.00,223.62 387.00,223.70 391.00,223.78 395.00,223.85 399.00,223.93 403.00,224.00" fill="none" stroke="#4a7fd6" stroke-width="0.85" stroke-opacity="1" stroke-linejoin="round"/>
<polyline points="350.60,215.20 350.60,226.00 351.30,220.70 353.00,218.20 355.00,218.50 359.00,218.49 363.00,218.48 367.00,218.47 371.00,218.47 375.00,218.46 379.00,218.45 383.00,218.44 387.00,218.43 391.00,218.43 395.00,218.42 399.00,218.41 403.00,218.40" fill="none" stroke="#ea4a3c" stroke-width="0.85" stroke-opacity="1" stroke-linejoin="round"/>
<polyline points="350.60,215.20 350.60,224.00 351.30,219.10 353.00,216.60 355.00,216.90 359.00,216.90 363.00,216.90 367.00,216.90 371.00,216.90 375.00,216.90 379.00,216.90 383.00,216.90 387.00,216.90 391.00,216.90 395.00,216.90 399.00,216.90 403.00,216.90" fill="none" stroke="#e9cf3e" stroke-width="0.85" stroke-opacity="1" stroke-linejoin="round"/>
<polyline points="350.60,215.20 350.60,224.00 351.30,218.00 353.00,215.50 355.00,215.80 359.00,215.80 363.00,215.80 367.00,215.80 371.00,215.80 375.00,215.80 379.00,215.80 383.00,215.80 387.00,215.80 391.00,215.80 395.00,215.80 399.00,215.80 403.00,215.80" fill="none" stroke="#f5a34a" stroke-width="0.85" stroke-opacity="1" stroke-linejoin="round"/>
<line x1="291.8" y1="260" x2="291.8" y2="326" stroke="#7b8296" stroke-width="0.75"/>
<line x1="291.8" y1="326" x2="411" y2="326" stroke="#7b8296" stroke-width="0.75"/>
<line x1="290.2" y1="265.5" x2="291.8" y2="265.5" stroke="#7b8296" stroke-width="0.7"/>
<text x="289.2" y="266.7" font-size="3.5" fill="#767676" font-weight="normal" text-anchor="end" >1</text>
<line x1="290.2" y1="280" x2="291.8" y2="280" stroke="#7b8296" stroke-width="0.7"/>
<text x="289.2" y="281.2" font-size="3.5" fill="#767676" font-weight="normal" text-anchor="end" >0.5</text>
<line x1="290.2" y1="294.5" x2="291.8" y2="294.5" stroke="#7b8296" stroke-width="0.7"/>
<text x="289.2" y="295.7" font-size="3.5" fill="#767676" font-weight="normal" text-anchor="end" >0</text>
<line x1="290.2" y1="308.75" x2="291.8" y2="308.75" stroke="#7b8296" stroke-width="0.7"/>
<text x="289.2" y="309.95" font-size="3.5" fill="#767676" font-weight="normal" text-anchor="end" >-0.5</text>
<line x1="290.2" y1="323.75" x2="291.8" y2="323.75" stroke="#7b8296" stroke-width="0.7"/>
<text x="289.2" y="324.95" font-size="3.5" fill="#767676" font-weight="normal" text-anchor="end" >-1</text>
<line x1="290.8" y1="272.75" x2="291.8" y2="272.75" stroke="#7b8296" stroke-width="0.5"/>
<line x1="290.8" y1="287.25" x2="291.8" y2="287.25" stroke="#7b8296" stroke-width="0.5"/>
<line x1="290.8" y1="301.62" x2="291.8" y2="301.62" stroke="#7b8296" stroke-width="0.5"/>
<line x1="290.8" y1="316.25" x2="291.8" y2="316.25" stroke="#7b8296" stroke-width="0.5"/>
<line x1="296.5" y1="326" x2="296.5" y2="327.5" stroke="#7b8296" stroke-width="0.7"/>
<line x1="317" y1="326" x2="317" y2="327.5" stroke="#7b8296" stroke-width="0.7"/>
<text x="317" y="331.2" font-size="3.5" fill="#767676" font-weight="normal" text-anchor="middle" >0</text>
<line x1="338.5" y1="326" x2="338.5" y2="327.5" stroke="#7b8296" stroke-width="0.7"/>
<line x1="360.25" y1="326" x2="360.25" y2="327.5" stroke="#7b8296" stroke-width="0.7"/>
<text x="360.25" y="331.2" font-size="3.5" fill="#767676" font-weight="normal" text-anchor="middle" >100</text>
<line x1="381.25" y1="326" x2="381.25" y2="327.5" stroke="#7b8296" stroke-width="0.7"/>
<line x1="402.25" y1="326" x2="402.25" y2="327.5" stroke="#7b8296" stroke-width="0.7"/>
<text x="402.25" y="331.2" font-size="3.5" fill="#767676" font-weight="normal" text-anchor="middle" >200</text>
<text x="322.2" y="267.8" fill="#111" stroke="#111" stroke-width="0.2"><tspan font-size="9.4" font-weight="bold">4 </tspan><tspan font-size="8.0">Ecliptasaponin A</tspan></text>
<text x="359" y="277.7" font-size="7.3" fill="#111" font-weight="normal" text-anchor="start" stroke="#111" stroke-width="0.15">(rep. 2)</text>
<text x="328" y="302.9" font-size="8.0" fill="#111" font-weight="bold" text-anchor="start" stroke="#111" stroke-width="0.15">S2</text>
<text x="331.2" y="343" font-size="8.35" fill="#222" font-weight="normal" text-anchor="start" stroke="#222" stroke-width="0.12">Time (Sec)</text>
<polyline points="301.10,294.50 301.60,281.20 302.10,298.30 303.00,294.30 303.00,294.13 304.64,294.15 306.27,294.40 307.91,294.22 309.55,294.14 311.19,294.46 312.83,294.37 314.46,294.10 316.10,294.04" fill="none" stroke="#ea4a3c" stroke-width="0.8" stroke-opacity="1" stroke-linejoin="round"/>
<polyline points="303.00,294.70 304.68,294.76 306.35,295.09 308.02,294.98 309.70,295.05 311.38,294.99 313.05,295.01 314.72,294.53 316.40,294.81" fill="none" stroke="#f5a34a" stroke-width="0.7" stroke-opacity="1" stroke-linejoin="round"/>
<polyline points="317.60,294.50 317.90,272.80 318.10,274.80 319.56,277.65 321.02,278.58 322.48,279.06 323.94,279.44 325.40,279.80 326.86,280.14 328.32,280.49 329.78,280.84 331.24,281.19 332.70,281.53 334.16,281.88 335.62,282.23 337.08,282.57 338.54,282.92 340.00,283.27 341.46,283.61 342.92,283.96 344.38,284.31 345.84,284.65 347.30,285.00" fill="none" stroke="#f27fa8" stroke-width="0.8" stroke-opacity="1" stroke-linejoin="round"/>
<polyline points="317.60,294.50 317.90,273.10 318.10,275.10 319.56,277.92 321.02,278.84 322.48,279.32 323.94,279.70 325.40,280.05 326.86,280.39 328.32,280.74 329.78,281.08 331.24,281.42 332.70,281.77 334.16,282.11 335.62,282.45 337.08,282.80 338.54,283.14 340.00,283.48 341.46,283.83 342.92,284.17 344.38,284.51 345.84,284.86 347.30,285.20" fill="none" stroke="#ea4a3c" stroke-width="0.8" stroke-opacity="1" stroke-linejoin="round"/>
<polyline points="317.60,294.50 317.90,260.00 318.10,276.80 319.56,279.54 321.02,280.43 322.48,280.90 323.94,281.26 325.40,281.60 326.86,281.93 328.32,282.27 329.78,282.60 331.24,282.93 332.70,283.27 334.16,283.60 335.62,283.93 337.08,284.27 338.54,284.60 340.00,284.93 341.46,285.27 342.92,285.60 344.38,285.93 345.84,286.27 347.30,286.60" fill="none" stroke="#e9cf3e" stroke-width="0.8" stroke-opacity="1" stroke-linejoin="round"/>
<polyline points="317.60,294.50 317.90,276.50 318.10,278.50 319.56,281.21 321.02,282.10 322.48,282.55 323.94,282.91 325.40,283.25 326.86,283.58 328.32,283.91 329.78,284.24 331.24,284.57 332.70,284.90 334.16,285.23 335.62,285.56 337.08,285.89 338.54,286.22 340.00,286.55 341.46,286.88 342.92,287.21 344.38,287.54 345.84,287.87 347.30,288.20" fill="none" stroke="#b07ccf" stroke-width="0.8" stroke-opacity="1" stroke-linejoin="round"/>
<polyline points="317.60,294.50 317.90,278.00 318.10,280.00 319.56,282.66 321.02,283.52 322.48,283.97 323.94,284.32 325.40,284.65 326.86,284.98 328.32,285.30 329.78,285.62 331.24,285.95 332.70,286.27 334.16,286.59 335.62,286.92 337.08,287.24 338.54,287.56 340.00,287.88 341.46,288.21 342.92,288.53 344.38,288.85 345.84,289.18 347.30,289.50" fill="none" stroke="#f27fa8" stroke-width="0.8" stroke-opacity="1" stroke-linejoin="round"/>
<polyline points="317.60,294.50 317.90,280.00 318.10,282.00 319.56,284.46 321.02,285.26 322.48,285.68 323.94,286.00 325.40,286.31 326.86,286.61 328.32,286.91 329.78,287.21 331.24,287.51 332.70,287.81 334.16,288.11 335.62,288.41 337.08,288.71 338.54,289.00 340.00,289.30 341.46,289.60 342.92,289.90 344.38,290.20 345.84,290.50 347.30,290.80" fill="none" stroke="#b8973a" stroke-width="0.8" stroke-opacity="1" stroke-linejoin="round"/>
<polyline points="317.60,294.50 317.90,282.20 318.10,284.20 319.56,286.44 321.02,287.17 322.48,287.54 323.94,287.84 325.40,288.12 326.86,288.39 328.32,288.66 329.78,288.94 331.24,289.21 332.70,289.48 334.16,289.75 335.62,290.02 337.08,290.30 338.54,290.57 340.00,290.84 341.46,291.11 342.92,291.38 344.38,291.66 345.84,291.93 347.30,292.20" fill="none" stroke="#2fa84a" stroke-width="0.8" stroke-opacity="1" stroke-linejoin="round"/>
<rect x="347.3" y="284.2" width="4.0" height="11.0" fill="#4f5d78"/>
<rect x="348.85" y="285.13" width="0.9" height="1.8" fill="#dfe6ee"/>
<rect x="348.85" y="288.80" width="0.9" height="1.8" fill="#dfe6ee"/>
<rect x="348.85" y="292.47" width="0.9" height="1.8" fill="#dfe6ee"/>
<polyline points="352.20,283.00 352.20,297.00" fill="none" stroke="#f27fa8" stroke-width="0.8" stroke-opacity="1" stroke-linejoin="round"/>
<polyline points="352.20,296.00 352.30,320.00 352.90,298.00" fill="none" stroke="#e9cf3e" stroke-width="0.9" stroke-opacity="1" stroke-linejoin="round"/>
<polyline points="353.00,297.40 404.00,295.00" fill="none" stroke="#45c46a" stroke-width="0.8" stroke-opacity="1" stroke-linejoin="round"/>
<polyline points="353.00,296.90 404.00,294.60" fill="none" stroke="#f5a34a" stroke-width="0.8" stroke-opacity="1" stroke-linejoin="round"/>
<polyline points="353.00,296.50 404.00,294.20" fill="none" stroke="#ea4a3c" stroke-width="0.9" stroke-opacity="1" stroke-linejoin="round"/>
</svg></body></html>
